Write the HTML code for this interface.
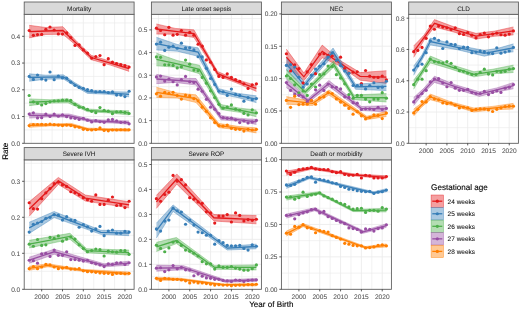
<!DOCTYPE html><html><head><meta charset="utf-8"><style>html,body{margin:0;padding:0;background:#fff;overflow:hidden}svg{display:block}</style></head><body><svg width="520" height="309" viewBox="0 0 520 309">
<style>text{font-family:"Liberation Sans",Arial,sans-serif;text-rendering:geometricPrecision}.ax{font-size:6.6px;fill:#4D4D4D;stroke:#4D4D4D;stroke-width:0.04px}.st{font-size:6.4px;fill:#1A1A1A;stroke:#1A1A1A;stroke-width:0.03px}.tt{font-size:8.1px;fill:#000;stroke:#000;stroke-width:0.12px}.lg{font-size:6.5px;fill:#000;stroke:#000;stroke-width:0.04px}</style>
<rect width="520" height="309" fill="#fff"/>
<clipPath id="clip0"><rect x="24.2" y="14.3" width="109.9" height="129"/></clipPath>
<line x1="31.28" y1="14.3" x2="31.28" y2="143.3" stroke="#EBEBEB" stroke-width="0.65"/><line x1="52.09" y1="14.3" x2="52.09" y2="143.3" stroke="#EBEBEB" stroke-width="0.65"/><line x1="72.91" y1="14.3" x2="72.91" y2="143.3" stroke="#EBEBEB" stroke-width="0.65"/><line x1="93.72" y1="14.3" x2="93.72" y2="143.3" stroke="#EBEBEB" stroke-width="0.65"/><line x1="114.53" y1="14.3" x2="114.53" y2="143.3" stroke="#EBEBEB" stroke-width="0.65"/><line x1="24.2" y1="129.93" x2="134.1" y2="129.93" stroke="#EBEBEB" stroke-width="0.65"/><line x1="24.2" y1="103.18" x2="134.1" y2="103.18" stroke="#EBEBEB" stroke-width="0.65"/><line x1="24.2" y1="76.43" x2="134.1" y2="76.43" stroke="#EBEBEB" stroke-width="0.65"/><line x1="24.2" y1="49.68" x2="134.1" y2="49.68" stroke="#EBEBEB" stroke-width="0.65"/><line x1="24.2" y1="22.93" x2="134.1" y2="22.93" stroke="#EBEBEB" stroke-width="0.65"/><line x1="41.68" y1="14.3" x2="41.68" y2="143.3" stroke="#EBEBEB" stroke-width="0.85"/><line x1="62.5" y1="14.3" x2="62.5" y2="143.3" stroke="#EBEBEB" stroke-width="0.85"/><line x1="83.31" y1="14.3" x2="83.31" y2="143.3" stroke="#EBEBEB" stroke-width="0.85"/><line x1="104.13" y1="14.3" x2="104.13" y2="143.3" stroke="#EBEBEB" stroke-width="0.85"/><line x1="124.94" y1="14.3" x2="124.94" y2="143.3" stroke="#EBEBEB" stroke-width="0.85"/><line x1="24.2" y1="143.3" x2="134.1" y2="143.3" stroke="#EBEBEB" stroke-width="0.85"/><line x1="24.2" y1="116.55" x2="134.1" y2="116.55" stroke="#EBEBEB" stroke-width="0.85"/><line x1="24.2" y1="89.8" x2="134.1" y2="89.8" stroke="#EBEBEB" stroke-width="0.85"/><line x1="24.2" y1="63.05" x2="134.1" y2="63.05" stroke="#EBEBEB" stroke-width="0.85"/><line x1="24.2" y1="36.3" x2="134.1" y2="36.3" stroke="#EBEBEB" stroke-width="0.85"/>
<g clip-path="url(#clip0)">
<polygon points="29.2,25.3 45.85,27.5 62.91,26.7 77.07,41.8 91.22,55.3 110.37,61.3 129.1,65.8 129.1,71.4 110.37,65.1 91.22,59.7 77.07,46.2 62.91,34.3 45.85,34.5 29.2,37.9" fill="#E41A1C" fill-opacity="0.42"/>
<path d="M29.2,25.3 L45.85,27.5 L62.91,26.7 L77.07,41.8 L91.22,55.3 L110.37,61.3 L129.1,65.8 M29.2,37.9 L45.85,34.5 L62.91,34.3 L77.07,46.2 L91.22,59.7 L110.37,65.1 L129.1,71.4" fill="none" stroke="#E41A1C" stroke-opacity="0.7" stroke-width="0.55"/>
<polygon points="29.2,73.8 45.85,75.17 63.33,74.85 74.99,82.81 87.48,90 108.29,91.61 129.1,92.07 129.1,96.81 108.29,94.32 87.48,93.39 74.99,86.19 63.33,78.92 45.85,79.23 29.2,81.24" fill="#377EB8" fill-opacity="0.42"/>
<path d="M29.2,73.8 L45.85,75.17 L63.33,74.85 L74.99,82.81 L87.48,90 L108.29,91.61 L129.1,92.07 M29.2,81.24 L45.85,79.23 L63.33,78.92 L74.99,86.19 L87.48,93.39 L108.29,94.32 L129.1,96.81" fill="none" stroke="#377EB8" stroke-opacity="0.7" stroke-width="0.55"/>
<polygon points="29.2,98.89 50.01,99.73 67.91,98.76 87.48,108.96 108.29,110.23 129.1,110.82 129.1,114.88 108.29,112.93 87.48,111.66 67.91,102.82 50.01,103.12 29.2,105.66" fill="#4DAF4A" fill-opacity="0.42"/>
<path d="M29.2,98.89 L50.01,99.73 L67.91,98.76 L87.48,108.96 L108.29,110.23 L129.1,110.82 M29.2,105.66 L50.01,103.12 L67.91,102.82 L87.48,111.66 L108.29,112.93 L129.1,114.88" fill="none" stroke="#4DAF4A" stroke-opacity="0.7" stroke-width="0.55"/>
<polygon points="29.2,112.68 50.01,114.14 68.74,113.91 91.64,119.53 112.45,120.38 129.1,120.89 129.1,124.27 112.45,123.09 91.64,122.24 68.74,117.29 50.01,116.85 29.2,118.1" fill="#984EA3" fill-opacity="0.42"/>
<path d="M29.2,112.68 L50.01,114.14 L68.74,113.91 L91.64,119.53 L112.45,120.38 L129.1,120.89 M29.2,118.1 L50.01,116.85 L68.74,117.29 L91.64,122.24 L112.45,123.09 L129.1,124.27" fill="none" stroke="#984EA3" stroke-opacity="0.7" stroke-width="0.55"/>
<polygon points="29.2,123.3 50.01,123.89 70.82,123.34 87.48,128.12 108.29,128.55 129.1,128.63 129.1,131.34 108.29,130.58 87.48,130.15 70.82,126.05 50.01,125.92 29.2,127.36" fill="#FF7F00" fill-opacity="0.42"/>
<path d="M29.2,123.3 L50.01,123.89 L70.82,123.34 L87.48,128.12 L108.29,128.55 L129.1,128.63 M29.2,127.36 L50.01,125.92 L70.82,126.05 L87.48,130.15 L108.29,130.58 L129.1,131.34" fill="none" stroke="#FF7F00" stroke-opacity="0.7" stroke-width="0.55"/>
<polyline points="29.2,31.6 45.85,31 62.91,30.5 77.07,44 91.22,57.5 110.37,63.2 129.1,68.6" fill="none" stroke="#E41A1C" stroke-width="1.3"/>
<polyline points="29.2,77.52 45.85,77.2 63.33,76.89 74.99,84.5 87.48,91.69 108.29,92.96 129.1,94.44" fill="none" stroke="#377EB8" stroke-width="1.3"/>
<polyline points="29.2,102.27 50.01,101.43 67.91,100.79 87.48,110.31 108.29,111.58 129.1,112.85" fill="none" stroke="#4DAF4A" stroke-width="1.3"/>
<polyline points="29.2,115.39 50.01,115.49 68.74,115.6 91.64,120.89 112.45,121.73 129.1,122.58" fill="none" stroke="#984EA3" stroke-width="1.3"/>
<polyline points="29.2,125.33 50.01,124.91 70.82,124.7 87.48,129.14 108.29,129.56 129.1,129.98" fill="none" stroke="#FF7F00" stroke-width="1.3"/>
<g fill="#E41A1C"><circle cx="29.2" cy="30.5" r="1.6"/><circle cx="33.36" cy="35.3" r="1.6"/><circle cx="37.52" cy="34.6" r="1.6"/><circle cx="41.68" cy="34.4" r="1.6"/><circle cx="45.85" cy="29.3" r="1.6"/><circle cx="50.01" cy="27" r="1.6"/><circle cx="54.17" cy="30" r="1.6"/><circle cx="58.34" cy="33.9" r="1.6"/><circle cx="62.5" cy="34.1" r="1.6"/><circle cx="66.66" cy="32.9" r="1.6"/><circle cx="70.82" cy="37.6" r="1.6"/><circle cx="74.99" cy="45.4" r="1.6"/><circle cx="79.15" cy="44.8" r="1.6"/><circle cx="83.31" cy="49.9" r="1.6"/><circle cx="87.48" cy="53.1" r="1.6"/><circle cx="91.64" cy="58.1" r="1.6"/><circle cx="95.8" cy="56.5" r="1.6"/><circle cx="99.96" cy="55.5" r="1.6"/><circle cx="104.13" cy="64.7" r="1.6"/><circle cx="108.29" cy="58.7" r="1.6"/><circle cx="112.45" cy="62.2" r="1.6"/><circle cx="116.62" cy="63.5" r="1.6"/><circle cx="120.78" cy="64.7" r="1.6"/><circle cx="124.94" cy="65.7" r="1.6"/><circle cx="129.1" cy="67" r="1.6"/></g>
<g fill="#377EB8"><circle cx="29.2" cy="76.46" r="1.6"/><circle cx="33.36" cy="79.42" r="1.6"/><circle cx="37.52" cy="74.98" r="1.6"/><circle cx="41.68" cy="79" r="1.6"/><circle cx="45.85" cy="80.06" r="1.6"/><circle cx="50.01" cy="72.02" r="1.6"/><circle cx="54.17" cy="79.64" r="1.6"/><circle cx="58.34" cy="76.04" r="1.6"/><circle cx="62.5" cy="77.94" r="1.6"/><circle cx="66.66" cy="78.15" r="1.6"/><circle cx="70.82" cy="82.17" r="1.6"/><circle cx="74.99" cy="85.35" r="1.6"/><circle cx="79.15" cy="87.46" r="1.6"/><circle cx="83.31" cy="88.31" r="1.6"/><circle cx="87.48" cy="89.58" r="1.6"/><circle cx="91.64" cy="90.64" r="1.6"/><circle cx="95.8" cy="91.91" r="1.6"/><circle cx="99.96" cy="91.48" r="1.6"/><circle cx="104.13" cy="91.48" r="1.6"/><circle cx="108.29" cy="92.54" r="1.6"/><circle cx="112.45" cy="91.91" r="1.6"/><circle cx="116.62" cy="95.08" r="1.6"/><circle cx="120.78" cy="95.08" r="1.6"/><circle cx="124.94" cy="96.56" r="1.6"/><circle cx="129.1" cy="91.27" r="1.6"/></g>
<g fill="#4DAF4A"><circle cx="29.2" cy="95.5" r="1.6"/><circle cx="33.36" cy="101.85" r="1.6"/><circle cx="37.52" cy="103.33" r="1.6"/><circle cx="41.68" cy="105.02" r="1.6"/><circle cx="45.85" cy="103.54" r="1.6"/><circle cx="50.01" cy="101.85" r="1.6"/><circle cx="54.17" cy="101" r="1.6"/><circle cx="58.34" cy="100.79" r="1.6"/><circle cx="62.5" cy="100.16" r="1.6"/><circle cx="66.66" cy="100.16" r="1.6"/><circle cx="70.82" cy="100.37" r="1.6"/><circle cx="74.99" cy="104.39" r="1.6"/><circle cx="79.15" cy="107.14" r="1.6"/><circle cx="83.31" cy="107.56" r="1.6"/><circle cx="87.48" cy="109.46" r="1.6"/><circle cx="91.64" cy="111.37" r="1.6"/><circle cx="95.8" cy="112.64" r="1.6"/><circle cx="99.96" cy="107.56" r="1.6"/><circle cx="104.13" cy="110.31" r="1.6"/><circle cx="108.29" cy="111.16" r="1.6"/><circle cx="112.45" cy="113.69" r="1.6"/><circle cx="116.62" cy="111.79" r="1.6"/><circle cx="120.78" cy="111.79" r="1.6"/><circle cx="124.94" cy="112.43" r="1.6"/><circle cx="129.1" cy="113.48" r="1.6"/></g>
<g fill="#984EA3"><circle cx="29.2" cy="114.12" r="1.6"/><circle cx="33.36" cy="112.85" r="1.6"/><circle cx="37.52" cy="117.93" r="1.6"/><circle cx="41.68" cy="117.71" r="1.6"/><circle cx="45.85" cy="114.12" r="1.6"/><circle cx="50.01" cy="116.45" r="1.6"/><circle cx="54.17" cy="114.12" r="1.6"/><circle cx="58.34" cy="116.23" r="1.6"/><circle cx="62.5" cy="114.96" r="1.6"/><circle cx="66.66" cy="116.66" r="1.6"/><circle cx="70.82" cy="117.93" r="1.6"/><circle cx="74.99" cy="118.35" r="1.6"/><circle cx="79.15" cy="119.41" r="1.6"/><circle cx="83.31" cy="118.35" r="1.6"/><circle cx="87.48" cy="120.25" r="1.6"/><circle cx="91.64" cy="121.95" r="1.6"/><circle cx="95.8" cy="120.68" r="1.6"/><circle cx="99.96" cy="121.73" r="1.6"/><circle cx="104.13" cy="122.37" r="1.6"/><circle cx="108.29" cy="119.83" r="1.6"/><circle cx="112.45" cy="119.41" r="1.6"/><circle cx="116.62" cy="120.89" r="1.6"/><circle cx="120.78" cy="122.37" r="1.6"/><circle cx="124.94" cy="122.37" r="1.6"/><circle cx="129.1" cy="123.85" r="1.6"/></g>
<g fill="#FF7F00"><circle cx="29.2" cy="125.54" r="1.6"/><circle cx="33.36" cy="124.7" r="1.6"/><circle cx="37.52" cy="124.48" r="1.6"/><circle cx="41.68" cy="124.27" r="1.6"/><circle cx="45.85" cy="124.7" r="1.6"/><circle cx="50.01" cy="124.06" r="1.6"/><circle cx="54.17" cy="124.7" r="1.6"/><circle cx="58.34" cy="125.12" r="1.6"/><circle cx="62.5" cy="125.54" r="1.6"/><circle cx="66.66" cy="125.12" r="1.6"/><circle cx="70.82" cy="125.54" r="1.6"/><circle cx="74.99" cy="126.81" r="1.6"/><circle cx="79.15" cy="127.23" r="1.6"/><circle cx="83.31" cy="129.35" r="1.6"/><circle cx="87.48" cy="129.77" r="1.6"/><circle cx="91.64" cy="129.98" r="1.6"/><circle cx="95.8" cy="129.56" r="1.6"/><circle cx="99.96" cy="127.87" r="1.6"/><circle cx="104.13" cy="130.41" r="1.6"/><circle cx="108.29" cy="130.83" r="1.6"/><circle cx="112.45" cy="129.98" r="1.6"/><circle cx="116.62" cy="129.98" r="1.6"/><circle cx="120.78" cy="129.77" r="1.6"/><circle cx="124.94" cy="129.77" r="1.6"/><circle cx="129.1" cy="129.77" r="1.6"/></g>
</g>
<rect x="24.2" y="14.3" width="109.9" height="129" fill="none" stroke="#5a5a5a" stroke-width="0.85"/>
<rect x="24.2" y="2" width="109.9" height="12.3" fill="#D9D9D9" stroke="#5a5a5a" stroke-width="0.85"/>
<text x="79.15" y="10.65" text-anchor="middle" class="st">Mortality</text>
<line x1="22.1" y1="143.3" x2="24.2" y2="143.3" stroke="#333" stroke-width="0.8"/>
<text x="20.3" y="145.65" text-anchor="end" class="ax">0.0</text>
<line x1="22.1" y1="116.55" x2="24.2" y2="116.55" stroke="#333" stroke-width="0.8"/>
<text x="20.3" y="118.9" text-anchor="end" class="ax">0.1</text>
<line x1="22.1" y1="89.8" x2="24.2" y2="89.8" stroke="#333" stroke-width="0.8"/>
<text x="20.3" y="92.15" text-anchor="end" class="ax">0.2</text>
<line x1="22.1" y1="63.05" x2="24.2" y2="63.05" stroke="#333" stroke-width="0.8"/>
<text x="20.3" y="65.4" text-anchor="end" class="ax">0.3</text>
<line x1="22.1" y1="36.3" x2="24.2" y2="36.3" stroke="#333" stroke-width="0.8"/>
<text x="20.3" y="38.65" text-anchor="end" class="ax">0.4</text>
<clipPath id="clip1"><rect x="151.4" y="14.3" width="110" height="129"/></clipPath>
<line x1="158.48" y1="14.3" x2="158.48" y2="143.3" stroke="#EBEBEB" stroke-width="0.65"/><line x1="179.32" y1="14.3" x2="179.32" y2="143.3" stroke="#EBEBEB" stroke-width="0.65"/><line x1="200.15" y1="14.3" x2="200.15" y2="143.3" stroke="#EBEBEB" stroke-width="0.65"/><line x1="220.98" y1="14.3" x2="220.98" y2="143.3" stroke="#EBEBEB" stroke-width="0.65"/><line x1="241.82" y1="14.3" x2="241.82" y2="143.3" stroke="#EBEBEB" stroke-width="0.65"/><line x1="151.4" y1="131.96" x2="261.4" y2="131.96" stroke="#EBEBEB" stroke-width="0.65"/><line x1="151.4" y1="109.28" x2="261.4" y2="109.28" stroke="#EBEBEB" stroke-width="0.65"/><line x1="151.4" y1="86.6" x2="261.4" y2="86.6" stroke="#EBEBEB" stroke-width="0.65"/><line x1="151.4" y1="63.92" x2="261.4" y2="63.92" stroke="#EBEBEB" stroke-width="0.65"/><line x1="151.4" y1="41.24" x2="261.4" y2="41.24" stroke="#EBEBEB" stroke-width="0.65"/><line x1="151.4" y1="18.56" x2="261.4" y2="18.56" stroke="#EBEBEB" stroke-width="0.65"/><line x1="168.9" y1="14.3" x2="168.9" y2="143.3" stroke="#EBEBEB" stroke-width="0.85"/><line x1="189.73" y1="14.3" x2="189.73" y2="143.3" stroke="#EBEBEB" stroke-width="0.85"/><line x1="210.57" y1="14.3" x2="210.57" y2="143.3" stroke="#EBEBEB" stroke-width="0.85"/><line x1="231.4" y1="14.3" x2="231.4" y2="143.3" stroke="#EBEBEB" stroke-width="0.85"/><line x1="252.23" y1="14.3" x2="252.23" y2="143.3" stroke="#EBEBEB" stroke-width="0.85"/><line x1="151.4" y1="143.3" x2="261.4" y2="143.3" stroke="#EBEBEB" stroke-width="0.85"/><line x1="151.4" y1="120.62" x2="261.4" y2="120.62" stroke="#EBEBEB" stroke-width="0.85"/><line x1="151.4" y1="97.94" x2="261.4" y2="97.94" stroke="#EBEBEB" stroke-width="0.85"/><line x1="151.4" y1="75.26" x2="261.4" y2="75.26" stroke="#EBEBEB" stroke-width="0.85"/><line x1="151.4" y1="52.58" x2="261.4" y2="52.58" stroke="#EBEBEB" stroke-width="0.85"/><line x1="151.4" y1="29.9" x2="261.4" y2="29.9" stroke="#EBEBEB" stroke-width="0.85"/>
<g clip-path="url(#clip1)">
<polygon points="156.4,23.94 175.15,28.39 193.9,29.87 206.4,51.66 217.65,71.54 235.57,79.16 256.4,85.5 256.4,91.43 235.57,82.54 217.65,75.77 206.4,56.73 193.9,37.48 175.15,34.31 156.4,34.1" fill="#E41A1C" fill-opacity="0.42"/>
<path d="M156.4,23.94 L175.15,28.39 L193.9,29.87 L206.4,51.66 L217.65,71.54 L235.57,79.16 L256.4,85.5 M156.4,34.1 L175.15,34.31 L193.9,37.48 L206.4,56.73 L217.65,75.77 L235.57,82.54 L256.4,91.43" fill="none" stroke="#E41A1C" stroke-opacity="0.7" stroke-width="0.55"/>
<polygon points="156.4,37.27 177.23,44.46 198.07,47.85 218.9,88.68 237.65,93.33 256.4,95.87 256.4,102.64 237.65,97.56 218.9,93.75 198.07,56.31 177.23,51.23 156.4,49.96" fill="#377EB8" fill-opacity="0.42"/>
<path d="M156.4,37.27 L177.23,44.46 L198.07,47.85 L218.9,88.68 L237.65,93.33 L256.4,95.87 M156.4,49.96 L177.23,51.23 L198.07,56.31 L218.9,93.75 L237.65,97.56 L256.4,102.64" fill="none" stroke="#377EB8" stroke-opacity="0.7" stroke-width="0.55"/>
<polygon points="156.4,53.14 177.23,60.54 199.32,65.2 220.98,104.54 239.73,108.14 256.4,110.04 256.4,116.81 239.73,112.37 220.98,109.62 199.32,73.66 177.23,67.31 156.4,65.83" fill="#4DAF4A" fill-opacity="0.42"/>
<path d="M156.4,53.14 L177.23,60.54 L199.32,65.2 L220.98,104.54 L239.73,108.14 L256.4,110.04 M156.4,65.83 L177.23,67.31 L199.32,73.66 L220.98,109.62 L239.73,112.37 L256.4,116.81" fill="none" stroke="#4DAF4A" stroke-opacity="0.7" stroke-width="0.55"/>
<polygon points="156.4,74.33 175.15,78.11 195.98,78.51 220.98,115.56 239.73,118.39 256.4,119.43 256.4,124.46 239.73,121.27 220.98,119.87 195.98,84.99 175.15,82.43 156.4,83.68" fill="#984EA3" fill-opacity="0.42"/>
<path d="M156.4,74.33 L175.15,78.11 L195.98,78.51 L220.98,115.56 L239.73,118.39 L256.4,119.43 M156.4,83.68 L175.15,82.43 L195.98,84.99 L220.98,119.87 L239.73,121.27 L256.4,124.46" fill="none" stroke="#984EA3" stroke-opacity="0.7" stroke-width="0.55"/>
<polygon points="156.4,87.25 177.23,92.96 195.98,94.87 218.9,123.43 239.73,126.6 256.4,127.87 256.4,132.95 239.73,129.98 218.9,127.66 195.98,102.48 177.23,98.04 156.4,97.41" fill="#FF7F00" fill-opacity="0.42"/>
<path d="M156.4,87.25 L177.23,92.96 L195.98,94.87 L218.9,123.43 L239.73,126.6 L256.4,127.87 M156.4,97.41 L177.23,98.04 L195.98,102.48 L218.9,127.66 L239.73,129.98 L256.4,132.95" fill="none" stroke="#FF7F00" stroke-opacity="0.7" stroke-width="0.55"/>
<polyline points="156.4,29.02 175.15,31.35 193.9,33.67 206.4,54.19 217.65,73.66 235.57,80.85 256.4,88.47" fill="none" stroke="#E41A1C" stroke-width="1.3"/>
<polyline points="156.4,43.62 177.23,47.85 198.07,52.08 218.9,91.22 237.65,95.45 256.4,99.25" fill="none" stroke="#377EB8" stroke-width="1.3"/>
<polyline points="156.4,59.48 177.23,63.93 199.32,69.43 220.98,107.08 239.73,110.26 256.4,113.43" fill="none" stroke="#4DAF4A" stroke-width="1.3"/>
<polyline points="156.4,79 175.15,80.27 195.98,81.75 220.98,117.71 239.73,119.83 256.4,121.95" fill="none" stroke="#984EA3" stroke-width="1.3"/>
<polyline points="156.4,92.33 177.23,95.5 195.98,98.67 218.9,125.54 239.73,128.29 256.4,130.41" fill="none" stroke="#FF7F00" stroke-width="1.3"/>
<g fill="#E41A1C"><circle cx="156.4" cy="28.17" r="1.6"/><circle cx="160.57" cy="30.5" r="1.6"/><circle cx="164.73" cy="34.73" r="1.6"/><circle cx="168.9" cy="27.33" r="1.6"/><circle cx="173.07" cy="35.16" r="1.6"/><circle cx="177.23" cy="34.31" r="1.6"/><circle cx="181.4" cy="30.5" r="1.6"/><circle cx="185.57" cy="35.16" r="1.6"/><circle cx="189.73" cy="32.4" r="1.6"/><circle cx="193.9" cy="35.16" r="1.6"/><circle cx="198.07" cy="44.25" r="1.6"/><circle cx="202.23" cy="46.16" r="1.6"/><circle cx="206.4" cy="59.91" r="1.6"/><circle cx="210.57" cy="62.23" r="1.6"/><circle cx="214.73" cy="69.43" r="1.6"/><circle cx="218.9" cy="76.41" r="1.6"/><circle cx="223.07" cy="77.47" r="1.6"/><circle cx="227.23" cy="73.87" r="1.6"/><circle cx="231.4" cy="77.47" r="1.6"/><circle cx="235.57" cy="79.58" r="1.6"/><circle cx="239.73" cy="81.27" r="1.6"/><circle cx="243.9" cy="83.81" r="1.6"/><circle cx="248.07" cy="88.47" r="1.6"/><circle cx="252.23" cy="84.87" r="1.6"/><circle cx="256.4" cy="83.81" r="1.6"/></g>
<g fill="#377EB8"><circle cx="156.4" cy="44.04" r="1.6"/><circle cx="160.57" cy="42.14" r="1.6"/><circle cx="164.73" cy="50.39" r="1.6"/><circle cx="168.9" cy="47.21" r="1.6"/><circle cx="173.07" cy="46.16" r="1.6"/><circle cx="177.23" cy="48.27" r="1.6"/><circle cx="181.4" cy="43.19" r="1.6"/><circle cx="185.57" cy="47.85" r="1.6"/><circle cx="189.73" cy="47.85" r="1.6"/><circle cx="193.9" cy="49.96" r="1.6"/><circle cx="198.07" cy="56.73" r="1.6"/><circle cx="202.23" cy="56.94" r="1.6"/><circle cx="206.4" cy="68.37" r="1.6"/><circle cx="210.57" cy="78.52" r="1.6"/><circle cx="214.73" cy="84.45" r="1.6"/><circle cx="218.9" cy="91.22" r="1.6"/><circle cx="223.07" cy="91.85" r="1.6"/><circle cx="227.23" cy="95.45" r="1.6"/><circle cx="231.4" cy="89.1" r="1.6"/><circle cx="235.57" cy="94.39" r="1.6"/><circle cx="239.73" cy="95.45" r="1.6"/><circle cx="243.9" cy="101.16" r="1.6"/><circle cx="248.07" cy="97.56" r="1.6"/><circle cx="252.23" cy="99.68" r="1.6"/><circle cx="256.4" cy="98.62" r="1.6"/></g>
<g fill="#4DAF4A"><circle cx="156.4" cy="56.94" r="1.6"/><circle cx="160.57" cy="57.37" r="1.6"/><circle cx="164.73" cy="64.77" r="1.6"/><circle cx="168.9" cy="64.77" r="1.6"/><circle cx="173.07" cy="65.41" r="1.6"/><circle cx="177.23" cy="67.95" r="1.6"/><circle cx="181.4" cy="66.89" r="1.6"/><circle cx="185.57" cy="60.12" r="1.6"/><circle cx="189.73" cy="64.14" r="1.6"/><circle cx="193.9" cy="70.06" r="1.6"/><circle cx="198.07" cy="70.7" r="1.6"/><circle cx="202.23" cy="77.47" r="1.6"/><circle cx="206.4" cy="83.18" r="1.6"/><circle cx="210.57" cy="90.79" r="1.6"/><circle cx="214.73" cy="97.56" r="1.6"/><circle cx="218.9" cy="104.33" r="1.6"/><circle cx="223.07" cy="108.14" r="1.6"/><circle cx="227.23" cy="107.08" r="1.6"/><circle cx="231.4" cy="104.97" r="1.6"/><circle cx="235.57" cy="109.2" r="1.6"/><circle cx="239.73" cy="110.26" r="1.6"/><circle cx="243.9" cy="113.43" r="1.6"/><circle cx="248.07" cy="114.91" r="1.6"/><circle cx="252.23" cy="109.83" r="1.6"/><circle cx="256.4" cy="112.79" r="1.6"/></g>
<g fill="#984EA3"><circle cx="156.4" cy="76.89" r="1.6"/><circle cx="160.57" cy="76.04" r="1.6"/><circle cx="164.73" cy="81.12" r="1.6"/><circle cx="168.9" cy="79" r="1.6"/><circle cx="173.07" cy="81.75" r="1.6"/><circle cx="177.23" cy="84.92" r="1.6"/><circle cx="181.4" cy="79.64" r="1.6"/><circle cx="185.57" cy="76.46" r="1.6"/><circle cx="189.73" cy="81.75" r="1.6"/><circle cx="193.9" cy="82.39" r="1.6"/><circle cx="198.07" cy="89.16" r="1.6"/><circle cx="202.23" cy="91.27" r="1.6"/><circle cx="206.4" cy="99.31" r="1.6"/><circle cx="210.57" cy="107.14" r="1.6"/><circle cx="214.73" cy="109.25" r="1.6"/><circle cx="218.9" cy="113.48" r="1.6"/><circle cx="223.07" cy="117.71" r="1.6"/><circle cx="227.23" cy="118.35" r="1.6"/><circle cx="231.4" cy="118.14" r="1.6"/><circle cx="235.57" cy="119.83" r="1.6"/><circle cx="239.73" cy="122.58" r="1.6"/><circle cx="243.9" cy="120.89" r="1.6"/><circle cx="248.07" cy="123" r="1.6"/><circle cx="252.23" cy="121.95" r="1.6"/><circle cx="256.4" cy="120.46" r="1.6"/></g>
<g fill="#FF7F00"><circle cx="156.4" cy="93.81" r="1.6"/><circle cx="160.57" cy="96.14" r="1.6"/><circle cx="164.73" cy="92.33" r="1.6"/><circle cx="168.9" cy="93.39" r="1.6"/><circle cx="173.07" cy="92.33" r="1.6"/><circle cx="177.23" cy="95.5" r="1.6"/><circle cx="181.4" cy="99.1" r="1.6"/><circle cx="185.57" cy="95.08" r="1.6"/><circle cx="189.73" cy="95.92" r="1.6"/><circle cx="193.9" cy="98.67" r="1.6"/><circle cx="198.07" cy="100.79" r="1.6"/><circle cx="202.23" cy="107.14" r="1.6"/><circle cx="206.4" cy="111.37" r="1.6"/><circle cx="210.57" cy="117.71" r="1.6"/><circle cx="214.73" cy="122.58" r="1.6"/><circle cx="218.9" cy="125.54" r="1.6"/><circle cx="223.07" cy="126.18" r="1.6"/><circle cx="227.23" cy="125.12" r="1.6"/><circle cx="231.4" cy="128.29" r="1.6"/><circle cx="235.57" cy="129.35" r="1.6"/><circle cx="239.73" cy="129.35" r="1.6"/><circle cx="243.9" cy="131.04" r="1.6"/><circle cx="248.07" cy="129.35" r="1.6"/><circle cx="252.23" cy="129.98" r="1.6"/><circle cx="256.4" cy="129.35" r="1.6"/></g>
</g>
<rect x="151.4" y="14.3" width="110" height="129" fill="none" stroke="#5a5a5a" stroke-width="0.85"/>
<rect x="151.4" y="2" width="110" height="12.3" fill="#D9D9D9" stroke="#5a5a5a" stroke-width="0.85"/>
<text x="206.4" y="10.65" text-anchor="middle" class="st">Late onset sepsis</text>
<line x1="149.3" y1="143.3" x2="151.4" y2="143.3" stroke="#333" stroke-width="0.8"/>
<text x="147.5" y="145.65" text-anchor="end" class="ax">0.0</text>
<line x1="149.3" y1="120.62" x2="151.4" y2="120.62" stroke="#333" stroke-width="0.8"/>
<text x="147.5" y="122.97" text-anchor="end" class="ax">0.1</text>
<line x1="149.3" y1="97.94" x2="151.4" y2="97.94" stroke="#333" stroke-width="0.8"/>
<text x="147.5" y="100.29" text-anchor="end" class="ax">0.2</text>
<line x1="149.3" y1="75.26" x2="151.4" y2="75.26" stroke="#333" stroke-width="0.8"/>
<text x="147.5" y="77.61" text-anchor="end" class="ax">0.3</text>
<line x1="149.3" y1="52.58" x2="151.4" y2="52.58" stroke="#333" stroke-width="0.8"/>
<text x="147.5" y="54.93" text-anchor="end" class="ax">0.4</text>
<line x1="149.3" y1="29.9" x2="151.4" y2="29.9" stroke="#333" stroke-width="0.8"/>
<text x="147.5" y="32.25" text-anchor="end" class="ax">0.5</text>
<clipPath id="clip2"><rect x="281.4" y="14.3" width="110" height="129"/></clipPath>
<line x1="288.48" y1="14.3" x2="288.48" y2="143.3" stroke="#EBEBEB" stroke-width="0.65"/><line x1="309.32" y1="14.3" x2="309.32" y2="143.3" stroke="#EBEBEB" stroke-width="0.65"/><line x1="330.15" y1="14.3" x2="330.15" y2="143.3" stroke="#EBEBEB" stroke-width="0.65"/><line x1="350.98" y1="14.3" x2="350.98" y2="143.3" stroke="#EBEBEB" stroke-width="0.65"/><line x1="371.82" y1="14.3" x2="371.82" y2="143.3" stroke="#EBEBEB" stroke-width="0.65"/><line x1="281.4" y1="127.13" x2="391.4" y2="127.13" stroke="#EBEBEB" stroke-width="0.65"/><line x1="281.4" y1="94.78" x2="391.4" y2="94.78" stroke="#EBEBEB" stroke-width="0.65"/><line x1="281.4" y1="62.43" x2="391.4" y2="62.43" stroke="#EBEBEB" stroke-width="0.65"/><line x1="281.4" y1="30.08" x2="391.4" y2="30.08" stroke="#EBEBEB" stroke-width="0.65"/><line x1="298.9" y1="14.3" x2="298.9" y2="143.3" stroke="#EBEBEB" stroke-width="0.85"/><line x1="319.73" y1="14.3" x2="319.73" y2="143.3" stroke="#EBEBEB" stroke-width="0.85"/><line x1="340.57" y1="14.3" x2="340.57" y2="143.3" stroke="#EBEBEB" stroke-width="0.85"/><line x1="361.4" y1="14.3" x2="361.4" y2="143.3" stroke="#EBEBEB" stroke-width="0.85"/><line x1="382.23" y1="14.3" x2="382.23" y2="143.3" stroke="#EBEBEB" stroke-width="0.85"/><line x1="281.4" y1="143.3" x2="391.4" y2="143.3" stroke="#EBEBEB" stroke-width="0.85"/><line x1="281.4" y1="110.95" x2="391.4" y2="110.95" stroke="#EBEBEB" stroke-width="0.85"/><line x1="281.4" y1="78.6" x2="391.4" y2="78.6" stroke="#EBEBEB" stroke-width="0.85"/><line x1="281.4" y1="46.25" x2="391.4" y2="46.25" stroke="#EBEBEB" stroke-width="0.85"/><line x1="281.4" y1="13.9" x2="391.4" y2="13.9" stroke="#EBEBEB" stroke-width="0.85"/>
<g clip-path="url(#clip2)">
<polygon points="286.4,49.12 303.9,73.02 322.23,45.1 340.57,60.75 360.15,72.6 386.4,70.69 386.4,83.39 360.15,80.21 340.57,66.25 322.23,57.79 303.9,80.64 286.4,65.19" fill="#E41A1C" fill-opacity="0.42"/>
<path d="M286.4,49.12 L303.9,73.02 L322.23,45.1 L340.57,60.75 L360.15,72.6 L386.4,70.69 M286.4,65.19 L303.9,80.64 L322.23,57.79 L340.57,66.25 L360.15,80.21 L386.4,83.39" fill="none" stroke="#E41A1C" stroke-opacity="0.7" stroke-width="0.55"/>
<polygon points="286.4,57.58 304.32,82.54 333.07,48.06 355.57,84.23 386.4,82.12 386.4,90.58 355.57,89.31 333.07,55.67 304.32,87.62 286.4,70.27" fill="#377EB8" fill-opacity="0.42"/>
<path d="M286.4,57.58 L304.32,82.54 L333.07,48.06 L355.57,84.23 L386.4,82.12 M286.4,70.27 L304.32,87.62 L333.07,55.67 L355.57,89.31 L386.4,90.58" fill="none" stroke="#377EB8" stroke-opacity="0.7" stroke-width="0.55"/>
<polygon points="286.4,69.21 305.15,89.52 333.48,60.96 353.9,95.02 386.4,93.54 386.4,102 353.9,99.68 333.48,67.31 305.15,94.6 286.4,78.52" fill="#4DAF4A" fill-opacity="0.42"/>
<path d="M286.4,69.21 L305.15,89.52 L333.48,60.96 L353.9,95.02 L386.4,93.54 M286.4,78.52 L305.15,94.6 L333.48,67.31 L353.9,99.68 L386.4,102" fill="none" stroke="#4DAF4A" stroke-opacity="0.7" stroke-width="0.55"/>
<polygon points="286.4,79.23 308.07,98.48 328.9,80.5 361.4,106.52 386.4,105.68 386.4,112.02 361.4,110.33 328.9,86.42 308.07,102.71 286.4,87.69" fill="#984EA3" fill-opacity="0.42"/>
<path d="M286.4,79.23 L308.07,98.48 L328.9,80.5 L361.4,106.52 L386.4,105.68 M286.4,87.69 L308.07,102.71 L328.9,86.42 L361.4,110.33 L386.4,112.02" fill="none" stroke="#984EA3" stroke-opacity="0.7" stroke-width="0.55"/>
<polygon points="286.4,96.58 312.65,101.23 328.9,90.02 366.82,116.25 386.4,111.39 386.4,116.46 366.82,119.64 328.9,95.1 312.65,105.46 286.4,104.19" fill="#FF7F00" fill-opacity="0.42"/>
<path d="M286.4,96.58 L312.65,101.23 L328.9,90.02 L366.82,116.25 L386.4,111.39 M286.4,104.19 L312.65,105.46 L328.9,95.1 L366.82,119.64 L386.4,116.46" fill="none" stroke="#FF7F00" stroke-opacity="0.7" stroke-width="0.55"/>
<polyline points="286.4,57.16 303.9,76.83 322.23,51.44 340.57,63.5 360.15,76.41 386.4,77.04" fill="none" stroke="#E41A1C" stroke-width="1.3"/>
<polyline points="286.4,63.92 304.32,85.08 333.07,51.87 355.57,86.77 386.4,86.35" fill="none" stroke="#377EB8" stroke-width="1.3"/>
<polyline points="286.4,73.87 305.15,92.06 333.48,64.14 353.9,97.35 386.4,97.77" fill="none" stroke="#4DAF4A" stroke-width="1.3"/>
<polyline points="286.4,83.46 308.07,100.6 328.9,83.46 361.4,108.43 386.4,108.85" fill="none" stroke="#984EA3" stroke-width="1.3"/>
<polyline points="286.4,100.39 312.65,103.35 328.9,92.56 366.82,117.95 386.4,113.93" fill="none" stroke="#FF7F00" stroke-width="1.3"/>
<g fill="#E41A1C"><circle cx="286.4" cy="53.77" r="1.6"/><circle cx="290.57" cy="70.91" r="1.6"/><circle cx="294.73" cy="64.77" r="1.6"/><circle cx="298.9" cy="68.58" r="1.6"/><circle cx="303.07" cy="82.96" r="1.6"/><circle cx="307.23" cy="71.96" r="1.6"/><circle cx="311.4" cy="64.56" r="1.6"/><circle cx="315.57" cy="73.66" r="1.6"/><circle cx="319.73" cy="54.19" r="1.6"/><circle cx="323.9" cy="53.77" r="1.6"/><circle cx="328.07" cy="55.46" r="1.6"/><circle cx="332.23" cy="56.1" r="1.6"/><circle cx="336.4" cy="60.75" r="1.6"/><circle cx="340.57" cy="57.16" r="1.6"/><circle cx="344.73" cy="68.58" r="1.6"/><circle cx="348.9" cy="73.02" r="1.6"/><circle cx="353.07" cy="72.18" r="1.6"/><circle cx="357.23" cy="71.75" r="1.6"/><circle cx="361.4" cy="83.6" r="1.6"/><circle cx="365.57" cy="70.48" r="1.6"/><circle cx="369.73" cy="76.19" r="1.6"/><circle cx="373.9" cy="77.25" r="1.6"/><circle cx="378.07" cy="77.46" r="1.6"/><circle cx="382.23" cy="75.98" r="1.6"/><circle cx="386.4" cy="79.79" r="1.6"/></g>
<g fill="#377EB8"><circle cx="286.4" cy="65.41" r="1.6"/><circle cx="290.57" cy="64.56" r="1.6"/><circle cx="294.73" cy="67.1" r="1.6"/><circle cx="298.9" cy="77.25" r="1.6"/><circle cx="303.07" cy="87.2" r="1.6"/><circle cx="307.23" cy="84.02" r="1.6"/><circle cx="311.4" cy="75.14" r="1.6"/><circle cx="315.57" cy="69" r="1.6"/><circle cx="319.73" cy="66.25" r="1.6"/><circle cx="323.9" cy="63.71" r="1.6"/><circle cx="328.07" cy="57.16" r="1.6"/><circle cx="332.23" cy="52.92" r="1.6"/><circle cx="336.4" cy="60.33" r="1.6"/><circle cx="340.57" cy="65.62" r="1.6"/><circle cx="344.73" cy="70.91" r="1.6"/><circle cx="348.9" cy="73.23" r="1.6"/><circle cx="353.07" cy="85.5" r="1.6"/><circle cx="357.23" cy="85.5" r="1.6"/><circle cx="361.4" cy="85.08" r="1.6"/><circle cx="365.57" cy="88.89" r="1.6"/><circle cx="369.73" cy="85.5" r="1.6"/><circle cx="373.9" cy="82.75" r="1.6"/><circle cx="378.07" cy="87.41" r="1.6"/><circle cx="382.23" cy="87.2" r="1.6"/><circle cx="386.4" cy="81.27" r="1.6"/></g>
<g fill="#4DAF4A"><circle cx="286.4" cy="75.98" r="1.6"/><circle cx="290.57" cy="78.52" r="1.6"/><circle cx="294.73" cy="84.87" r="1.6"/><circle cx="298.9" cy="92.91" r="1.6"/><circle cx="303.07" cy="91" r="1.6"/><circle cx="307.23" cy="95.45" r="1.6"/><circle cx="311.4" cy="84.02" r="1.6"/><circle cx="315.57" cy="86.98" r="1.6"/><circle cx="319.73" cy="74.71" r="1.6"/><circle cx="323.9" cy="73.87" r="1.6"/><circle cx="328.07" cy="66.04" r="1.6"/><circle cx="332.23" cy="66.46" r="1.6"/><circle cx="336.4" cy="74.71" r="1.6"/><circle cx="340.57" cy="78.1" r="1.6"/><circle cx="344.73" cy="83.81" r="1.6"/><circle cx="348.9" cy="94.6" r="1.6"/><circle cx="353.07" cy="98.2" r="1.6"/><circle cx="357.23" cy="95.45" r="1.6"/><circle cx="361.4" cy="95.45" r="1.6"/><circle cx="365.57" cy="99.04" r="1.6"/><circle cx="369.73" cy="101.79" r="1.6"/><circle cx="373.9" cy="99.04" r="1.6"/><circle cx="378.07" cy="99.04" r="1.6"/><circle cx="382.23" cy="92.7" r="1.6"/><circle cx="386.4" cy="98.2" r="1.6"/></g>
<g fill="#984EA3"><circle cx="286.4" cy="82.62" r="1.6"/><circle cx="290.57" cy="90.44" r="1.6"/><circle cx="294.73" cy="94.04" r="1.6"/><circle cx="298.9" cy="95.31" r="1.6"/><circle cx="303.07" cy="96.79" r="1.6"/><circle cx="307.23" cy="101.66" r="1.6"/><circle cx="311.4" cy="100.6" r="1.6"/><circle cx="315.57" cy="89.81" r="1.6"/><circle cx="319.73" cy="85.16" r="1.6"/><circle cx="323.9" cy="90.44" r="1.6"/><circle cx="328.07" cy="84.1" r="1.6"/><circle cx="332.23" cy="86.85" r="1.6"/><circle cx="336.4" cy="87.27" r="1.6"/><circle cx="340.57" cy="88.96" r="1.6"/><circle cx="344.73" cy="96.79" r="1.6"/><circle cx="348.9" cy="97.43" r="1.6"/><circle cx="353.07" cy="102.71" r="1.6"/><circle cx="357.23" cy="103.14" r="1.6"/><circle cx="361.4" cy="109.48" r="1.6"/><circle cx="365.57" cy="108.85" r="1.6"/><circle cx="369.73" cy="108.85" r="1.6"/><circle cx="373.9" cy="109.48" r="1.6"/><circle cx="378.07" cy="107.37" r="1.6"/><circle cx="382.23" cy="109.48" r="1.6"/><circle cx="386.4" cy="108.43" r="1.6"/></g>
<g fill="#FF7F00"><circle cx="286.4" cy="100.39" r="1.6"/><circle cx="290.57" cy="107.37" r="1.6"/><circle cx="294.73" cy="96.16" r="1.6"/><circle cx="298.9" cy="104.62" r="1.6"/><circle cx="303.07" cy="104.19" r="1.6"/><circle cx="307.23" cy="104.19" r="1.6"/><circle cx="311.4" cy="100.39" r="1.6"/><circle cx="315.57" cy="104.19" r="1.6"/><circle cx="319.73" cy="97.85" r="1.6"/><circle cx="323.9" cy="96.79" r="1.6"/><circle cx="328.07" cy="92.56" r="1.6"/><circle cx="332.23" cy="93.62" r="1.6"/><circle cx="336.4" cy="98.91" r="1.6"/><circle cx="340.57" cy="102.08" r="1.6"/><circle cx="344.73" cy="105.25" r="1.6"/><circle cx="348.9" cy="108.43" r="1.6"/><circle cx="353.07" cy="114.14" r="1.6"/><circle cx="357.23" cy="111.6" r="1.6"/><circle cx="361.4" cy="115.83" r="1.6"/><circle cx="365.57" cy="119" r="1.6"/><circle cx="369.73" cy="117.52" r="1.6"/><circle cx="373.9" cy="114.77" r="1.6"/><circle cx="378.07" cy="115.41" r="1.6"/><circle cx="382.23" cy="118.58" r="1.6"/><circle cx="386.4" cy="113.08" r="1.6"/></g>
</g>
<rect x="281.4" y="14.3" width="110" height="129" fill="none" stroke="#5a5a5a" stroke-width="0.85"/>
<rect x="281.4" y="2" width="110" height="12.3" fill="#D9D9D9" stroke="#5a5a5a" stroke-width="0.85"/>
<text x="336.4" y="10.65" text-anchor="middle" class="st">NEC</text>
<line x1="279.3" y1="143.3" x2="281.4" y2="143.3" stroke="#333" stroke-width="0.8"/>
<text x="277.5" y="145.65" text-anchor="end" class="ax">0.00</text>
<line x1="279.3" y1="110.95" x2="281.4" y2="110.95" stroke="#333" stroke-width="0.8"/>
<text x="277.5" y="113.3" text-anchor="end" class="ax">0.05</text>
<line x1="279.3" y1="78.6" x2="281.4" y2="78.6" stroke="#333" stroke-width="0.8"/>
<text x="277.5" y="80.95" text-anchor="end" class="ax">0.10</text>
<line x1="279.3" y1="46.25" x2="281.4" y2="46.25" stroke="#333" stroke-width="0.8"/>
<text x="277.5" y="48.6" text-anchor="end" class="ax">0.15</text>
<line x1="279.3" y1="13.9" x2="281.4" y2="13.9" stroke="#333" stroke-width="0.8"/>
<text x="277.5" y="16.25" text-anchor="end" class="ax">0.20</text>
<clipPath id="clip3"><rect x="408.7" y="14.3" width="109.7" height="129"/></clipPath>
<line x1="415.76" y1="14.3" x2="415.76" y2="143.3" stroke="#EBEBEB" stroke-width="0.65"/><line x1="436.54" y1="14.3" x2="436.54" y2="143.3" stroke="#EBEBEB" stroke-width="0.65"/><line x1="457.32" y1="14.3" x2="457.32" y2="143.3" stroke="#EBEBEB" stroke-width="0.65"/><line x1="478.09" y1="14.3" x2="478.09" y2="143.3" stroke="#EBEBEB" stroke-width="0.65"/><line x1="498.87" y1="14.3" x2="498.87" y2="143.3" stroke="#EBEBEB" stroke-width="0.65"/><line x1="408.7" y1="127.66" x2="518.4" y2="127.66" stroke="#EBEBEB" stroke-width="0.65"/><line x1="408.7" y1="96.38" x2="518.4" y2="96.38" stroke="#EBEBEB" stroke-width="0.65"/><line x1="408.7" y1="65.1" x2="518.4" y2="65.1" stroke="#EBEBEB" stroke-width="0.65"/><line x1="408.7" y1="33.82" x2="518.4" y2="33.82" stroke="#EBEBEB" stroke-width="0.65"/><line x1="426.15" y1="14.3" x2="426.15" y2="143.3" stroke="#EBEBEB" stroke-width="0.85"/><line x1="446.93" y1="14.3" x2="446.93" y2="143.3" stroke="#EBEBEB" stroke-width="0.85"/><line x1="467.71" y1="14.3" x2="467.71" y2="143.3" stroke="#EBEBEB" stroke-width="0.85"/><line x1="488.48" y1="14.3" x2="488.48" y2="143.3" stroke="#EBEBEB" stroke-width="0.85"/><line x1="509.26" y1="14.3" x2="509.26" y2="143.3" stroke="#EBEBEB" stroke-width="0.85"/><line x1="408.7" y1="143.3" x2="518.4" y2="143.3" stroke="#EBEBEB" stroke-width="0.85"/><line x1="408.7" y1="112.02" x2="518.4" y2="112.02" stroke="#EBEBEB" stroke-width="0.85"/><line x1="408.7" y1="80.74" x2="518.4" y2="80.74" stroke="#EBEBEB" stroke-width="0.85"/><line x1="408.7" y1="49.46" x2="518.4" y2="49.46" stroke="#EBEBEB" stroke-width="0.85"/><line x1="408.7" y1="18.18" x2="518.4" y2="18.18" stroke="#EBEBEB" stroke-width="0.85"/>
<g clip-path="url(#clip3)">
<polygon points="413.69,45.94 424.07,35.12 434.46,19.6 455.24,27.3 476.02,33.36 494.71,31.1 513.41,26.93 513.41,34.92 494.71,36.24 476.02,39.07 455.24,32.44 434.46,27.02 424.07,40.26 413.69,57.37" fill="#E41A1C" fill-opacity="0.42"/>
<path d="M413.69,45.94 L424.07,35.12 L434.46,19.6 L455.24,27.3 L476.02,33.36 L494.71,31.1 L513.41,26.93 M413.69,57.37 L424.07,40.26 L434.46,27.02 L455.24,32.44 L476.02,39.07 L494.71,36.24 L513.41,34.92" fill="none" stroke="#E41A1C" stroke-opacity="0.7" stroke-width="0.55"/>
<polygon points="413.69,66.13 422,54.8 430.31,38.07 457.32,45.14 484.33,50.49 498.87,48.03 513.41,43.85 513.41,51.85 498.87,53.17 484.33,56.2 457.32,49.71 430.31,44.93 422,59.94 413.69,75.27" fill="#377EB8" fill-opacity="0.42"/>
<path d="M413.69,66.13 L422,54.8 L430.31,38.07 L457.32,45.14 L484.33,50.49 L498.87,48.03 L513.41,43.85 M413.69,75.27 L422,59.94 L430.31,44.93 L457.32,49.71 L484.33,56.2 L498.87,53.17 L513.41,51.85" fill="none" stroke="#377EB8" stroke-opacity="0.7" stroke-width="0.55"/>
<polygon points="413.69,80.09 422,69.61 430.31,56.06 451.08,64.6 473.94,71.72 492.64,69.26 513.41,65.08 513.41,72.5 492.64,73.83 473.94,76.86 451.08,69.17 430.31,62.91 422,74.75 413.69,89.23" fill="#4DAF4A" fill-opacity="0.42"/>
<path d="M413.69,80.09 L422,69.61 L430.31,56.06 L451.08,64.6 L473.94,71.72 L492.64,69.26 L513.41,65.08 M413.69,89.23 L422,74.75 L430.31,62.91 L451.08,69.17 L473.94,76.86 L492.64,73.83 L513.41,72.5" fill="none" stroke="#4DAF4A" stroke-opacity="0.7" stroke-width="0.55"/>
<polygon points="413.69,97.54 424.07,88.04 434.46,76.19 455.24,84.73 479.34,91.85 496.79,87.91 513.41,82.53 513.41,88.82 496.79,91.9 479.34,96.42 455.24,88.73 434.46,82.47 424.07,92.61 413.69,105.54" fill="#984EA3" fill-opacity="0.42"/>
<path d="M413.69,97.54 L424.07,88.04 L434.46,76.19 L455.24,84.73 L479.34,91.85 L496.79,87.91 L513.41,82.53 M413.69,105.54 L424.07,92.61 L434.46,82.47 L455.24,88.73 L479.34,96.42 L496.79,91.9 L513.41,88.82" fill="none" stroke="#984EA3" stroke-opacity="0.7" stroke-width="0.55"/>
<polygon points="413.69,109.11 422,102.71 430.31,94.03 451.08,101.94 473.94,108 492.64,106.39 513.41,103.34 513.41,109.05 492.64,109.81 473.94,112 451.08,105.37 430.31,99.74 422,106.71 413.69,115.97" fill="#FF7F00" fill-opacity="0.42"/>
<path d="M413.69,109.11 L422,102.71 L430.31,94.03 L451.08,101.94 L473.94,108 L492.64,106.39 L513.41,103.34 M413.69,115.97 L422,106.71 L430.31,99.74 L451.08,105.37 L473.94,112 L492.64,109.81 L513.41,109.05" fill="none" stroke="#FF7F00" stroke-opacity="0.7" stroke-width="0.55"/>
<polyline points="413.69,51.66 424.07,37.69 434.46,23.31 455.24,29.87 476.02,36.21 494.71,33.67 513.41,30.92" fill="none" stroke="#E41A1C" stroke-width="1.3"/>
<polyline points="413.69,70.7 422,57.37 430.31,41.5 457.32,47.43 484.33,53.35 498.87,50.6 513.41,47.85" fill="none" stroke="#377EB8" stroke-width="1.3"/>
<polyline points="413.69,84.66 422,72.18 430.31,59.48 451.08,66.89 473.94,74.29 492.64,71.54 513.41,68.79" fill="none" stroke="#4DAF4A" stroke-width="1.3"/>
<polyline points="413.69,101.54 424.07,90.33 434.46,79.33 455.24,86.73 479.34,94.14 496.79,89.91 513.41,85.67" fill="none" stroke="#984EA3" stroke-width="1.3"/>
<polyline points="413.69,112.54 422,104.71 430.31,96.89 451.08,103.66 473.94,110 492.64,108.1 513.41,106.19" fill="none" stroke="#FF7F00" stroke-width="1.3"/>
<g fill="#E41A1C"><circle cx="413.69" cy="51.66" r="1.6"/><circle cx="417.84" cy="50.39" r="1.6"/><circle cx="422" cy="47.43" r="1.6"/><circle cx="426.15" cy="38.33" r="1.6"/><circle cx="430.31" cy="26.06" r="1.6"/><circle cx="434.46" cy="29.23" r="1.6"/><circle cx="438.62" cy="26.06" r="1.6"/><circle cx="442.77" cy="27.12" r="1.6"/><circle cx="446.93" cy="27.75" r="1.6"/><circle cx="451.08" cy="29.44" r="1.6"/><circle cx="455.24" cy="27.75" r="1.6"/><circle cx="459.39" cy="33.67" r="1.6"/><circle cx="463.55" cy="34.52" r="1.6"/><circle cx="467.71" cy="32.62" r="1.6"/><circle cx="471.86" cy="35.16" r="1.6"/><circle cx="476.02" cy="37.91" r="1.6"/><circle cx="480.17" cy="34.52" r="1.6"/><circle cx="484.33" cy="33.04" r="1.6"/><circle cx="488.48" cy="36.85" r="1.6"/><circle cx="492.64" cy="34.1" r="1.6"/><circle cx="496.79" cy="33.04" r="1.6"/><circle cx="500.95" cy="34.73" r="1.6"/><circle cx="505.1" cy="35.16" r="1.6"/><circle cx="509.26" cy="34.1" r="1.6"/><circle cx="513.41" cy="30.92" r="1.6"/></g>
<g fill="#377EB8"><circle cx="413.69" cy="70.06" r="1.6"/><circle cx="417.84" cy="65.83" r="1.6"/><circle cx="422" cy="64.14" r="1.6"/><circle cx="426.15" cy="52.71" r="1.6"/><circle cx="430.31" cy="40.87" r="1.6"/><circle cx="434.46" cy="38.33" r="1.6"/><circle cx="438.62" cy="40.44" r="1.6"/><circle cx="442.77" cy="48.48" r="1.6"/><circle cx="446.93" cy="41.92" r="1.6"/><circle cx="451.08" cy="44.25" r="1.6"/><circle cx="455.24" cy="44.67" r="1.6"/><circle cx="459.39" cy="48.48" r="1.6"/><circle cx="463.55" cy="47.21" r="1.6"/><circle cx="467.71" cy="47.43" r="1.6"/><circle cx="471.86" cy="52.71" r="1.6"/><circle cx="476.02" cy="52.08" r="1.6"/><circle cx="480.17" cy="51.02" r="1.6"/><circle cx="484.33" cy="51.66" r="1.6"/><circle cx="488.48" cy="53.14" r="1.6"/><circle cx="492.64" cy="53.56" r="1.6"/><circle cx="496.79" cy="47.85" r="1.6"/><circle cx="500.95" cy="53.14" r="1.6"/><circle cx="505.1" cy="52.08" r="1.6"/><circle cx="509.26" cy="51.02" r="1.6"/><circle cx="513.41" cy="47.43" r="1.6"/></g>
<g fill="#4DAF4A"><circle cx="413.69" cy="84.66" r="1.6"/><circle cx="417.84" cy="79.16" r="1.6"/><circle cx="422" cy="79.16" r="1.6"/><circle cx="426.15" cy="70.7" r="1.6"/><circle cx="430.31" cy="59.06" r="1.6"/><circle cx="434.46" cy="61.6" r="1.6"/><circle cx="438.62" cy="62.23" r="1.6"/><circle cx="442.77" cy="63.08" r="1.6"/><circle cx="446.93" cy="61.6" r="1.6"/><circle cx="451.08" cy="63.29" r="1.6"/><circle cx="455.24" cy="67.31" r="1.6"/><circle cx="459.39" cy="70.7" r="1.6"/><circle cx="463.55" cy="71.33" r="1.6"/><circle cx="467.71" cy="73.02" r="1.6"/><circle cx="471.86" cy="74.5" r="1.6"/><circle cx="476.02" cy="74.5" r="1.6"/><circle cx="480.17" cy="72.39" r="1.6"/><circle cx="484.33" cy="69.21" r="1.6"/><circle cx="488.48" cy="74.08" r="1.6"/><circle cx="492.64" cy="74.93" r="1.6"/><circle cx="496.79" cy="71.33" r="1.6"/><circle cx="500.95" cy="71.96" r="1.6"/><circle cx="505.1" cy="71.33" r="1.6"/><circle cx="509.26" cy="69.21" r="1.6"/><circle cx="513.41" cy="68.58" r="1.6"/></g>
<g fill="#984EA3"><circle cx="413.69" cy="101.96" r="1.6"/><circle cx="417.84" cy="96.67" r="1.6"/><circle cx="422" cy="93.5" r="1.6"/><circle cx="426.15" cy="90.33" r="1.6"/><circle cx="430.31" cy="81.87" r="1.6"/><circle cx="434.46" cy="79.12" r="1.6"/><circle cx="438.62" cy="78.69" r="1.6"/><circle cx="442.77" cy="82.92" r="1.6"/><circle cx="446.93" cy="86.73" r="1.6"/><circle cx="451.08" cy="82.5" r="1.6"/><circle cx="455.24" cy="88.21" r="1.6"/><circle cx="459.39" cy="90.33" r="1.6"/><circle cx="463.55" cy="90.33" r="1.6"/><circle cx="467.71" cy="89.27" r="1.6"/><circle cx="471.86" cy="92.44" r="1.6"/><circle cx="476.02" cy="93.5" r="1.6"/><circle cx="480.17" cy="93.5" r="1.6"/><circle cx="484.33" cy="91.39" r="1.6"/><circle cx="488.48" cy="94.56" r="1.6"/><circle cx="492.64" cy="92.44" r="1.6"/><circle cx="496.79" cy="90.96" r="1.6"/><circle cx="500.95" cy="92.44" r="1.6"/><circle cx="505.1" cy="88.21" r="1.6"/><circle cx="509.26" cy="87.16" r="1.6"/><circle cx="513.41" cy="84.62" r="1.6"/></g>
<g fill="#FF7F00"><circle cx="413.69" cy="112.96" r="1.6"/><circle cx="417.84" cy="109.37" r="1.6"/><circle cx="422" cy="101.54" r="1.6"/><circle cx="426.15" cy="101.96" r="1.6"/><circle cx="430.31" cy="96.67" r="1.6"/><circle cx="434.46" cy="98.79" r="1.6"/><circle cx="438.62" cy="99.85" r="1.6"/><circle cx="442.77" cy="103.02" r="1.6"/><circle cx="446.93" cy="103.66" r="1.6"/><circle cx="451.08" cy="103.02" r="1.6"/><circle cx="455.24" cy="105.14" r="1.6"/><circle cx="459.39" cy="107.89" r="1.6"/><circle cx="463.55" cy="107.25" r="1.6"/><circle cx="467.71" cy="107.89" r="1.6"/><circle cx="471.86" cy="110.43" r="1.6"/><circle cx="476.02" cy="109.37" r="1.6"/><circle cx="480.17" cy="108.94" r="1.6"/><circle cx="484.33" cy="108.94" r="1.6"/><circle cx="488.48" cy="110" r="1.6"/><circle cx="492.64" cy="111.48" r="1.6"/><circle cx="496.79" cy="109.37" r="1.6"/><circle cx="500.95" cy="107.89" r="1.6"/><circle cx="505.1" cy="106.62" r="1.6"/><circle cx="509.26" cy="106.19" r="1.6"/><circle cx="513.41" cy="106.19" r="1.6"/></g>
</g>
<rect x="408.7" y="14.3" width="109.7" height="129" fill="none" stroke="#5a5a5a" stroke-width="0.85"/>
<rect x="408.7" y="2" width="109.7" height="12.3" fill="#D9D9D9" stroke="#5a5a5a" stroke-width="0.85"/>
<text x="463.55" y="10.65" text-anchor="middle" class="st">CLD</text>
<line x1="406.6" y1="143.3" x2="408.7" y2="143.3" stroke="#333" stroke-width="0.8"/>
<text x="404.8" y="145.65" text-anchor="end" class="ax">0.0</text>
<line x1="406.6" y1="112.02" x2="408.7" y2="112.02" stroke="#333" stroke-width="0.8"/>
<text x="404.8" y="114.37" text-anchor="end" class="ax">0.2</text>
<line x1="406.6" y1="80.74" x2="408.7" y2="80.74" stroke="#333" stroke-width="0.8"/>
<text x="404.8" y="83.09" text-anchor="end" class="ax">0.4</text>
<line x1="406.6" y1="49.46" x2="408.7" y2="49.46" stroke="#333" stroke-width="0.8"/>
<text x="404.8" y="51.81" text-anchor="end" class="ax">0.6</text>
<line x1="406.6" y1="18.18" x2="408.7" y2="18.18" stroke="#333" stroke-width="0.8"/>
<text x="404.8" y="20.53" text-anchor="end" class="ax">0.8</text>
<line x1="426.15" y1="143.3" x2="426.15" y2="145.4" stroke="#333" stroke-width="0.8"/>
<text x="426.15" y="152.5" text-anchor="middle" class="ax">2000</text>
<line x1="446.93" y1="143.3" x2="446.93" y2="145.4" stroke="#333" stroke-width="0.8"/>
<text x="446.93" y="152.5" text-anchor="middle" class="ax">2005</text>
<line x1="467.71" y1="143.3" x2="467.71" y2="145.4" stroke="#333" stroke-width="0.8"/>
<text x="467.71" y="152.5" text-anchor="middle" class="ax">2010</text>
<line x1="488.48" y1="143.3" x2="488.48" y2="145.4" stroke="#333" stroke-width="0.8"/>
<text x="488.48" y="152.5" text-anchor="middle" class="ax">2015</text>
<line x1="509.26" y1="143.3" x2="509.26" y2="145.4" stroke="#333" stroke-width="0.8"/>
<text x="509.26" y="152.5" text-anchor="middle" class="ax">2020</text>
<clipPath id="clip4"><rect x="24.2" y="159.85" width="109.9" height="129.45"/></clipPath>
<line x1="31.28" y1="159.85" x2="31.28" y2="289.3" stroke="#EBEBEB" stroke-width="0.65"/><line x1="52.09" y1="159.85" x2="52.09" y2="289.3" stroke="#EBEBEB" stroke-width="0.65"/><line x1="72.91" y1="159.85" x2="72.91" y2="289.3" stroke="#EBEBEB" stroke-width="0.65"/><line x1="93.72" y1="159.85" x2="93.72" y2="289.3" stroke="#EBEBEB" stroke-width="0.65"/><line x1="114.53" y1="159.85" x2="114.53" y2="289.3" stroke="#EBEBEB" stroke-width="0.65"/><line x1="24.2" y1="271.3" x2="134.1" y2="271.3" stroke="#EBEBEB" stroke-width="0.65"/><line x1="24.2" y1="235.3" x2="134.1" y2="235.3" stroke="#EBEBEB" stroke-width="0.65"/><line x1="24.2" y1="199.3" x2="134.1" y2="199.3" stroke="#EBEBEB" stroke-width="0.65"/><line x1="24.2" y1="163.3" x2="134.1" y2="163.3" stroke="#EBEBEB" stroke-width="0.65"/><line x1="41.68" y1="159.85" x2="41.68" y2="289.3" stroke="#EBEBEB" stroke-width="0.85"/><line x1="62.5" y1="159.85" x2="62.5" y2="289.3" stroke="#EBEBEB" stroke-width="0.85"/><line x1="83.31" y1="159.85" x2="83.31" y2="289.3" stroke="#EBEBEB" stroke-width="0.85"/><line x1="104.13" y1="159.85" x2="104.13" y2="289.3" stroke="#EBEBEB" stroke-width="0.85"/><line x1="124.94" y1="159.85" x2="124.94" y2="289.3" stroke="#EBEBEB" stroke-width="0.85"/><line x1="24.2" y1="289.3" x2="134.1" y2="289.3" stroke="#EBEBEB" stroke-width="0.85"/><line x1="24.2" y1="253.3" x2="134.1" y2="253.3" stroke="#EBEBEB" stroke-width="0.85"/><line x1="24.2" y1="217.3" x2="134.1" y2="217.3" stroke="#EBEBEB" stroke-width="0.85"/><line x1="24.2" y1="181.3" x2="134.1" y2="181.3" stroke="#EBEBEB" stroke-width="0.85"/>
<g clip-path="url(#clip4)">
<polygon points="29.2,201.87 58.34,177.45 85.39,195.05 129.1,201.82 129.1,207.87 85.39,201.1 58.34,184.43 29.2,216.29" fill="#E41A1C" fill-opacity="0.42"/>
<path d="M29.2,201.87 L58.34,177.45 L85.39,195.05 L129.1,201.82 M29.2,216.29 L58.34,184.43 L85.39,201.1 L129.1,207.87" fill="none" stroke="#E41A1C" stroke-opacity="0.7" stroke-width="0.55"/>
<polygon points="29.2,222.28 54.17,211.49 100.8,230.28 129.1,230.62 129.1,235.69 100.8,234.34 54.17,217.58 29.2,233.45" fill="#377EB8" fill-opacity="0.42"/>
<path d="M29.2,222.28 L54.17,211.49 L100.8,230.28 L129.1,230.62 M29.2,233.45 L54.17,217.58 L100.8,234.34 L129.1,235.69" fill="none" stroke="#377EB8" stroke-opacity="0.7" stroke-width="0.55"/>
<polygon points="29.2,240.35 69.99,233.28 86.64,248.68 129.1,250.08 129.1,255.16 86.64,252.74 69.99,239.37 29.2,247.96" fill="#4DAF4A" fill-opacity="0.42"/>
<path d="M29.2,240.35 L69.99,233.28 L86.64,248.68 L129.1,250.08 M29.2,247.96 L69.99,239.37 L86.64,252.74 L129.1,255.16" fill="none" stroke="#4DAF4A" stroke-opacity="0.7" stroke-width="0.55"/>
<polygon points="29.2,257.19 54.17,249.23 104.13,263.79 129.1,261.16 129.1,265.23 104.13,266.83 54.17,254.31 29.2,263.28" fill="#984EA3" fill-opacity="0.42"/>
<path d="M29.2,257.19 L54.17,249.23 L104.13,263.79 L129.1,261.16 M29.2,263.28 L54.17,254.31 L104.13,266.83 L129.1,265.23" fill="none" stroke="#984EA3" stroke-opacity="0.7" stroke-width="0.55"/>
<polygon points="29.2,266.24 47.93,263.79 83.31,269.37 129.1,272.04 129.1,275.08 83.31,271.4 47.93,266.83 29.2,270.3" fill="#FF7F00" fill-opacity="0.42"/>
<path d="M29.2,266.24 L47.93,263.79 L83.31,269.37 L129.1,272.04 M29.2,270.3 L47.93,266.83 L83.31,271.4 L129.1,275.08" fill="none" stroke="#FF7F00" stroke-opacity="0.7" stroke-width="0.55"/>
<polyline points="29.2,209.08 58.34,180.94 85.39,198.08 129.1,204.85" fill="none" stroke="#E41A1C" stroke-width="1.3"/>
<polyline points="29.2,227.87 54.17,214.54 100.8,232.31 129.1,233.16" fill="none" stroke="#377EB8" stroke-width="1.3"/>
<polyline points="29.2,244.16 69.99,236.33 86.64,250.71 129.1,252.62" fill="none" stroke="#4DAF4A" stroke-width="1.3"/>
<polyline points="29.2,260.23 54.17,251.77 104.13,265.31 129.1,263.2" fill="none" stroke="#984EA3" stroke-width="1.3"/>
<polyline points="29.2,268.27 47.93,265.31 83.31,270.39 129.1,273.56" fill="none" stroke="#FF7F00" stroke-width="1.3"/>
<g fill="#E41A1C"><circle cx="29.2" cy="202.73" r="1.6"/><circle cx="33.36" cy="208.66" r="1.6"/><circle cx="37.52" cy="209.08" r="1.6"/><circle cx="41.68" cy="198.71" r="1.6"/><circle cx="45.85" cy="192.79" r="1.6"/><circle cx="50.01" cy="188.56" r="1.6"/><circle cx="54.17" cy="183.69" r="1.6"/><circle cx="58.34" cy="182.21" r="1.6"/><circle cx="62.5" cy="184.96" r="1.6"/><circle cx="66.66" cy="186.44" r="1.6"/><circle cx="70.82" cy="191.73" r="1.6"/><circle cx="74.99" cy="192.79" r="1.6"/><circle cx="79.15" cy="194.91" r="1.6"/><circle cx="83.31" cy="197.66" r="1.6"/><circle cx="87.48" cy="199.77" r="1.6"/><circle cx="91.64" cy="201.25" r="1.6"/><circle cx="95.8" cy="194.91" r="1.6"/><circle cx="99.96" cy="204.43" r="1.6"/><circle cx="104.13" cy="204.43" r="1.6"/><circle cx="108.29" cy="200.19" r="1.6"/><circle cx="112.45" cy="197.02" r="1.6"/><circle cx="116.62" cy="205.48" r="1.6"/><circle cx="120.78" cy="205.06" r="1.6"/><circle cx="124.94" cy="207.6" r="1.6"/><circle cx="129.1" cy="201.25" r="1.6"/></g>
<g fill="#377EB8"><circle cx="29.2" cy="232.1" r="1.6"/><circle cx="33.36" cy="224.27" r="1.6"/><circle cx="37.52" cy="223" r="1.6"/><circle cx="41.68" cy="221.52" r="1.6"/><circle cx="45.85" cy="218.35" r="1.6"/><circle cx="50.01" cy="217.29" r="1.6"/><circle cx="54.17" cy="214.54" r="1.6"/><circle cx="58.34" cy="215.17" r="1.6"/><circle cx="62.5" cy="220.04" r="1.6"/><circle cx="66.66" cy="216.65" r="1.6"/><circle cx="70.82" cy="220.04" r="1.6"/><circle cx="74.99" cy="220.46" r="1.6"/><circle cx="79.15" cy="227.23" r="1.6"/><circle cx="83.31" cy="224.69" r="1.6"/><circle cx="87.48" cy="226.81" r="1.6"/><circle cx="91.64" cy="231.04" r="1.6"/><circle cx="95.8" cy="228.92" r="1.6"/><circle cx="99.96" cy="226.39" r="1.6"/><circle cx="104.13" cy="235.69" r="1.6"/><circle cx="108.29" cy="231.04" r="1.6"/><circle cx="112.45" cy="229.98" r="1.6"/><circle cx="116.62" cy="233.16" r="1.6"/><circle cx="120.78" cy="233.16" r="1.6"/><circle cx="124.94" cy="231.46" r="1.6"/><circle cx="129.1" cy="232.1" r="1.6"/></g>
<g fill="#4DAF4A"><circle cx="29.2" cy="244.16" r="1.6"/><circle cx="33.36" cy="246.27" r="1.6"/><circle cx="37.52" cy="239.5" r="1.6"/><circle cx="41.68" cy="245.43" r="1.6"/><circle cx="45.85" cy="244.79" r="1.6"/><circle cx="50.01" cy="237.39" r="1.6"/><circle cx="54.17" cy="238.44" r="1.6"/><circle cx="58.34" cy="235.91" r="1.6"/><circle cx="62.5" cy="241.19" r="1.6"/><circle cx="66.66" cy="239.08" r="1.6"/><circle cx="70.82" cy="236.96" r="1.6"/><circle cx="74.99" cy="239.08" r="1.6"/><circle cx="79.15" cy="244.79" r="1.6"/><circle cx="83.31" cy="248.39" r="1.6"/><circle cx="87.48" cy="251.77" r="1.6"/><circle cx="91.64" cy="250.5" r="1.6"/><circle cx="95.8" cy="249.02" r="1.6"/><circle cx="99.96" cy="249.66" r="1.6"/><circle cx="104.13" cy="256" r="1.6"/><circle cx="108.29" cy="251.14" r="1.6"/><circle cx="112.45" cy="251.77" r="1.6"/><circle cx="116.62" cy="252.19" r="1.6"/><circle cx="120.78" cy="250.5" r="1.6"/><circle cx="124.94" cy="250.71" r="1.6"/><circle cx="129.1" cy="254.31" r="1.6"/></g>
<g fill="#984EA3"><circle cx="29.2" cy="260.23" r="1.6"/><circle cx="33.36" cy="260.66" r="1.6"/><circle cx="37.52" cy="263.2" r="1.6"/><circle cx="41.68" cy="253.89" r="1.6"/><circle cx="45.85" cy="253.25" r="1.6"/><circle cx="50.01" cy="256.43" r="1.6"/><circle cx="54.17" cy="250.08" r="1.6"/><circle cx="58.34" cy="255.37" r="1.6"/><circle cx="62.5" cy="255.37" r="1.6"/><circle cx="66.66" cy="251.77" r="1.6"/><circle cx="70.82" cy="259.6" r="1.6"/><circle cx="74.99" cy="259.6" r="1.6"/><circle cx="79.15" cy="260.23" r="1.6"/><circle cx="83.31" cy="261.08" r="1.6"/><circle cx="87.48" cy="260.23" r="1.6"/><circle cx="91.64" cy="262.77" r="1.6"/><circle cx="95.8" cy="263.83" r="1.6"/><circle cx="99.96" cy="264.89" r="1.6"/><circle cx="104.13" cy="266.58" r="1.6"/><circle cx="108.29" cy="263.83" r="1.6"/><circle cx="112.45" cy="264.46" r="1.6"/><circle cx="116.62" cy="262.77" r="1.6"/><circle cx="120.78" cy="262.77" r="1.6"/><circle cx="124.94" cy="264.46" r="1.6"/><circle cx="129.1" cy="262.77" r="1.6"/></g>
<g fill="#FF7F00"><circle cx="29.2" cy="268.7" r="1.6"/><circle cx="33.36" cy="266.58" r="1.6"/><circle cx="37.52" cy="268.7" r="1.6"/><circle cx="41.68" cy="267" r="1.6"/><circle cx="45.85" cy="264.46" r="1.6"/><circle cx="50.01" cy="264.89" r="1.6"/><circle cx="54.17" cy="267" r="1.6"/><circle cx="58.34" cy="268.7" r="1.6"/><circle cx="62.5" cy="268.06" r="1.6"/><circle cx="66.66" cy="267.43" r="1.6"/><circle cx="70.82" cy="269.12" r="1.6"/><circle cx="74.99" cy="269.12" r="1.6"/><circle cx="79.15" cy="268.7" r="1.6"/><circle cx="83.31" cy="270.81" r="1.6"/><circle cx="87.48" cy="271.66" r="1.6"/><circle cx="91.64" cy="271.87" r="1.6"/><circle cx="95.8" cy="272.29" r="1.6"/><circle cx="99.96" cy="272.93" r="1.6"/><circle cx="104.13" cy="273.35" r="1.6"/><circle cx="108.29" cy="273.35" r="1.6"/><circle cx="112.45" cy="274.41" r="1.6"/><circle cx="116.62" cy="273.35" r="1.6"/><circle cx="120.78" cy="273.35" r="1.6"/><circle cx="124.94" cy="273.77" r="1.6"/><circle cx="129.1" cy="273.35" r="1.6"/></g>
</g>
<rect x="24.2" y="159.85" width="109.9" height="129.45" fill="none" stroke="#5a5a5a" stroke-width="0.85"/>
<rect x="24.2" y="147.6" width="109.9" height="12.25" fill="#D9D9D9" stroke="#5a5a5a" stroke-width="0.85"/>
<text x="79.15" y="156.22" text-anchor="middle" class="st">Severe IVH</text>
<line x1="22.1" y1="289.3" x2="24.2" y2="289.3" stroke="#333" stroke-width="0.8"/>
<text x="20.3" y="291.65" text-anchor="end" class="ax">0.0</text>
<line x1="22.1" y1="253.3" x2="24.2" y2="253.3" stroke="#333" stroke-width="0.8"/>
<text x="20.3" y="255.65" text-anchor="end" class="ax">0.1</text>
<line x1="22.1" y1="217.3" x2="24.2" y2="217.3" stroke="#333" stroke-width="0.8"/>
<text x="20.3" y="219.65" text-anchor="end" class="ax">0.2</text>
<line x1="22.1" y1="181.3" x2="24.2" y2="181.3" stroke="#333" stroke-width="0.8"/>
<text x="20.3" y="183.65" text-anchor="end" class="ax">0.3</text>
<line x1="41.68" y1="289.3" x2="41.68" y2="291.4" stroke="#333" stroke-width="0.8"/>
<text x="41.68" y="298.5" text-anchor="middle" class="ax">2000</text>
<line x1="62.5" y1="289.3" x2="62.5" y2="291.4" stroke="#333" stroke-width="0.8"/>
<text x="62.5" y="298.5" text-anchor="middle" class="ax">2005</text>
<line x1="83.31" y1="289.3" x2="83.31" y2="291.4" stroke="#333" stroke-width="0.8"/>
<text x="83.31" y="298.5" text-anchor="middle" class="ax">2010</text>
<line x1="104.13" y1="289.3" x2="104.13" y2="291.4" stroke="#333" stroke-width="0.8"/>
<text x="104.13" y="298.5" text-anchor="middle" class="ax">2015</text>
<line x1="124.94" y1="289.3" x2="124.94" y2="291.4" stroke="#333" stroke-width="0.8"/>
<text x="124.94" y="298.5" text-anchor="middle" class="ax">2020</text>
<clipPath id="clip5"><rect x="151.4" y="159.85" width="110" height="129.45"/></clipPath>
<line x1="158.48" y1="159.85" x2="158.48" y2="289.3" stroke="#EBEBEB" stroke-width="0.65"/><line x1="179.32" y1="159.85" x2="179.32" y2="289.3" stroke="#EBEBEB" stroke-width="0.65"/><line x1="200.15" y1="159.85" x2="200.15" y2="289.3" stroke="#EBEBEB" stroke-width="0.65"/><line x1="220.98" y1="159.85" x2="220.98" y2="289.3" stroke="#EBEBEB" stroke-width="0.65"/><line x1="241.82" y1="159.85" x2="241.82" y2="289.3" stroke="#EBEBEB" stroke-width="0.65"/><line x1="151.4" y1="276.82" x2="261.4" y2="276.82" stroke="#EBEBEB" stroke-width="0.65"/><line x1="151.4" y1="251.86" x2="261.4" y2="251.86" stroke="#EBEBEB" stroke-width="0.65"/><line x1="151.4" y1="226.9" x2="261.4" y2="226.9" stroke="#EBEBEB" stroke-width="0.65"/><line x1="151.4" y1="201.94" x2="261.4" y2="201.94" stroke="#EBEBEB" stroke-width="0.65"/><line x1="151.4" y1="176.98" x2="261.4" y2="176.98" stroke="#EBEBEB" stroke-width="0.65"/><line x1="168.9" y1="159.85" x2="168.9" y2="289.3" stroke="#EBEBEB" stroke-width="0.85"/><line x1="189.73" y1="159.85" x2="189.73" y2="289.3" stroke="#EBEBEB" stroke-width="0.85"/><line x1="210.57" y1="159.85" x2="210.57" y2="289.3" stroke="#EBEBEB" stroke-width="0.85"/><line x1="231.4" y1="159.85" x2="231.4" y2="289.3" stroke="#EBEBEB" stroke-width="0.85"/><line x1="252.23" y1="159.85" x2="252.23" y2="289.3" stroke="#EBEBEB" stroke-width="0.85"/><line x1="151.4" y1="289.3" x2="261.4" y2="289.3" stroke="#EBEBEB" stroke-width="0.85"/><line x1="151.4" y1="264.34" x2="261.4" y2="264.34" stroke="#EBEBEB" stroke-width="0.85"/><line x1="151.4" y1="239.38" x2="261.4" y2="239.38" stroke="#EBEBEB" stroke-width="0.85"/><line x1="151.4" y1="214.42" x2="261.4" y2="214.42" stroke="#EBEBEB" stroke-width="0.85"/><line x1="151.4" y1="189.46" x2="261.4" y2="189.46" stroke="#EBEBEB" stroke-width="0.85"/><line x1="151.4" y1="164.5" x2="261.4" y2="164.5" stroke="#EBEBEB" stroke-width="0.85"/>
<g clip-path="url(#clip5)">
<polygon points="156.4,195.37 176.82,173.92 213.9,214.5 256.4,215.47 256.4,223.85 213.9,221.01 176.82,184.16 156.4,208.4" fill="#E41A1C" fill-opacity="0.42"/>
<path d="M156.4,195.37 L176.82,173.92 L213.9,214.5 L256.4,215.47 M156.4,208.4 L176.82,184.16 L213.9,221.01 L256.4,223.85" fill="none" stroke="#E41A1C" stroke-opacity="0.7" stroke-width="0.55"/>
<polygon points="156.4,223.17 173.07,204.93 227.23,246.31 256.4,244.16 256.4,248.81 227.23,250.04 173.07,211.45 156.4,238.06" fill="#377EB8" fill-opacity="0.42"/>
<path d="M156.4,223.17 L173.07,204.93 L227.23,246.31 L256.4,244.16 M156.4,238.06 L173.07,211.45 L227.23,250.04 L256.4,248.81" fill="none" stroke="#377EB8" stroke-opacity="0.7" stroke-width="0.55"/>
<polygon points="156.4,242.34 176.4,237.51 214.73,265.65 256.4,264.89 256.4,269.96 214.73,269.2 176.4,243.61 156.4,251.48" fill="#4DAF4A" fill-opacity="0.42"/>
<path d="M156.4,242.34 L176.4,237.51 L214.73,265.65 L256.4,264.89 M156.4,251.48 L176.4,243.61 L214.73,269.2 L256.4,269.96" fill="none" stroke="#4DAF4A" stroke-opacity="0.7" stroke-width="0.55"/>
<polygon points="156.4,265.11 183.48,265.7 225.15,279.79 256.4,278.48 256.4,281.53 225.15,282.33 183.48,269.76 156.4,271.2" fill="#984EA3" fill-opacity="0.42"/>
<path d="M156.4,265.11 L183.48,265.7 L225.15,279.79 L256.4,278.48 M156.4,271.2 L183.48,269.76 L225.15,282.33 L256.4,281.53" fill="none" stroke="#984EA3" stroke-opacity="0.7" stroke-width="0.55"/>
<polygon points="156.4,277.21 181.4,278.35 223.07,283.9 256.4,283.39 256.4,285.93 223.07,285.42 181.4,280.38 156.4,280.26" fill="#FF7F00" fill-opacity="0.42"/>
<path d="M156.4,277.21 L181.4,278.35 L223.07,283.9 L256.4,283.39 M156.4,280.26 L181.4,280.38 L223.07,285.42 L256.4,285.93" fill="none" stroke="#FF7F00" stroke-opacity="0.7" stroke-width="0.55"/>
<polyline points="156.4,201.89 176.82,179.04 213.9,217.75 256.4,219.66" fill="none" stroke="#E41A1C" stroke-width="1.3"/>
<polyline points="156.4,230.62 173.07,208.19 227.23,248.18 256.4,246.48" fill="none" stroke="#377EB8" stroke-width="1.3"/>
<polyline points="156.4,246.91 176.4,240.56 214.73,267.43 256.4,267.43" fill="none" stroke="#4DAF4A" stroke-width="1.3"/>
<polyline points="156.4,268.16 183.48,267.73 225.15,281.06 256.4,280" fill="none" stroke="#984EA3" stroke-width="1.3"/>
<polyline points="156.4,278.73 181.4,279.37 223.07,284.66 256.4,284.66" fill="none" stroke="#FF7F00" stroke-width="1.3"/>
<g fill="#E41A1C"><circle cx="156.4" cy="198.71" r="1.6"/><circle cx="160.57" cy="201.25" r="1.6"/><circle cx="164.73" cy="194.48" r="1.6"/><circle cx="168.9" cy="192.16" r="1.6"/><circle cx="173.07" cy="175.44" r="1.6"/><circle cx="177.23" cy="181.16" r="1.6"/><circle cx="181.4" cy="179.67" r="1.6"/><circle cx="185.57" cy="184.96" r="1.6"/><circle cx="189.73" cy="197.66" r="1.6"/><circle cx="193.9" cy="199.14" r="1.6"/><circle cx="198.07" cy="201.89" r="1.6"/><circle cx="202.23" cy="203.37" r="1.6"/><circle cx="206.4" cy="211.83" r="1.6"/><circle cx="210.57" cy="212.89" r="1.6"/><circle cx="214.73" cy="223.04" r="1.6"/><circle cx="218.9" cy="216.06" r="1.6"/><circle cx="223.07" cy="216.06" r="1.6"/><circle cx="227.23" cy="214.58" r="1.6"/><circle cx="231.4" cy="221.98" r="1.6"/><circle cx="235.57" cy="212.89" r="1.6"/><circle cx="239.73" cy="215.43" r="1.6"/><circle cx="243.9" cy="220.93" r="1.6"/><circle cx="248.07" cy="219.66" r="1.6"/><circle cx="252.23" cy="220.29" r="1.6"/><circle cx="256.4" cy="219.23" r="1.6"/></g>
<g fill="#377EB8"><circle cx="156.4" cy="228.92" r="1.6"/><circle cx="160.57" cy="231.04" r="1.6"/><circle cx="164.73" cy="221.1" r="1.6"/><circle cx="168.9" cy="220.04" r="1.6"/><circle cx="173.07" cy="208.19" r="1.6"/><circle cx="177.23" cy="210.73" r="1.6"/><circle cx="181.4" cy="212" r="1.6"/><circle cx="185.57" cy="224.27" r="1.6"/><circle cx="189.73" cy="220.04" r="1.6"/><circle cx="193.9" cy="225.12" r="1.6"/><circle cx="198.07" cy="232.1" r="1.6"/><circle cx="202.23" cy="232.73" r="1.6"/><circle cx="206.4" cy="235.27" r="1.6"/><circle cx="210.57" cy="235.27" r="1.6"/><circle cx="214.73" cy="244.16" r="1.6"/><circle cx="218.9" cy="240.56" r="1.6"/><circle cx="223.07" cy="242.67" r="1.6"/><circle cx="227.23" cy="245.43" r="1.6"/><circle cx="231.4" cy="245.85" r="1.6"/><circle cx="235.57" cy="245.85" r="1.6"/><circle cx="239.73" cy="245.43" r="1.6"/><circle cx="243.9" cy="248.39" r="1.6"/><circle cx="248.07" cy="250.08" r="1.6"/><circle cx="252.23" cy="244.79" r="1.6"/><circle cx="256.4" cy="246.27" r="1.6"/></g>
<g fill="#4DAF4A"><circle cx="156.4" cy="245.21" r="1.6"/><circle cx="160.57" cy="248.39" r="1.6"/><circle cx="164.73" cy="251.77" r="1.6"/><circle cx="168.9" cy="247.96" r="1.6"/><circle cx="173.07" cy="242.04" r="1.6"/><circle cx="177.23" cy="241.62" r="1.6"/><circle cx="181.4" cy="245.43" r="1.6"/><circle cx="185.57" cy="250.08" r="1.6"/><circle cx="189.73" cy="251.14" r="1.6"/><circle cx="193.9" cy="253.25" r="1.6"/><circle cx="198.07" cy="256" r="1.6"/><circle cx="202.23" cy="261.71" r="1.6"/><circle cx="206.4" cy="263.83" r="1.6"/><circle cx="210.57" cy="263.83" r="1.6"/><circle cx="214.73" cy="269.12" r="1.6"/><circle cx="218.9" cy="265.95" r="1.6"/><circle cx="223.07" cy="267.43" r="1.6"/><circle cx="227.23" cy="267.43" r="1.6"/><circle cx="231.4" cy="266.58" r="1.6"/><circle cx="235.57" cy="268.06" r="1.6"/><circle cx="239.73" cy="269.12" r="1.6"/><circle cx="243.9" cy="270.18" r="1.6"/><circle cx="248.07" cy="270.18" r="1.6"/><circle cx="252.23" cy="268.7" r="1.6"/><circle cx="256.4" cy="264.89" r="1.6"/></g>
<g fill="#984EA3"><circle cx="156.4" cy="268.16" r="1.6"/><circle cx="160.57" cy="267.73" r="1.6"/><circle cx="164.73" cy="271.54" r="1.6"/><circle cx="168.9" cy="269.85" r="1.6"/><circle cx="173.07" cy="265.62" r="1.6"/><circle cx="177.23" cy="268.79" r="1.6"/><circle cx="181.4" cy="267.31" r="1.6"/><circle cx="185.57" cy="269.85" r="1.6"/><circle cx="189.73" cy="269.85" r="1.6"/><circle cx="193.9" cy="275.77" r="1.6"/><circle cx="198.07" cy="274.08" r="1.6"/><circle cx="202.23" cy="276.19" r="1.6"/><circle cx="206.4" cy="277.89" r="1.6"/><circle cx="210.57" cy="278.31" r="1.6"/><circle cx="214.73" cy="279.37" r="1.6"/><circle cx="218.9" cy="279.37" r="1.6"/><circle cx="223.07" cy="280.43" r="1.6"/><circle cx="227.23" cy="280.85" r="1.6"/><circle cx="231.4" cy="281.48" r="1.6"/><circle cx="235.57" cy="280" r="1.6"/><circle cx="239.73" cy="280.43" r="1.6"/><circle cx="243.9" cy="281.48" r="1.6"/><circle cx="248.07" cy="280.43" r="1.6"/><circle cx="252.23" cy="280" r="1.6"/><circle cx="256.4" cy="279.79" r="1.6"/></g>
<g fill="#FF7F00"><circle cx="156.4" cy="278.31" r="1.6"/><circle cx="160.57" cy="280.43" r="1.6"/><circle cx="164.73" cy="278.31" r="1.6"/><circle cx="168.9" cy="278.73" r="1.6"/><circle cx="173.07" cy="279.37" r="1.6"/><circle cx="177.23" cy="279.37" r="1.6"/><circle cx="181.4" cy="280" r="1.6"/><circle cx="185.57" cy="280.85" r="1.6"/><circle cx="189.73" cy="282.96" r="1.6"/><circle cx="193.9" cy="282.12" r="1.6"/><circle cx="198.07" cy="282.96" r="1.6"/><circle cx="202.23" cy="282.96" r="1.6"/><circle cx="206.4" cy="283.6" r="1.6"/><circle cx="210.57" cy="284.23" r="1.6"/><circle cx="214.73" cy="285.08" r="1.6"/><circle cx="218.9" cy="284.66" r="1.6"/><circle cx="223.07" cy="285.08" r="1.6"/><circle cx="227.23" cy="285.08" r="1.6"/><circle cx="231.4" cy="285.71" r="1.6"/><circle cx="235.57" cy="285.29" r="1.6"/><circle cx="239.73" cy="285.08" r="1.6"/><circle cx="243.9" cy="285.08" r="1.6"/><circle cx="248.07" cy="284.66" r="1.6"/><circle cx="252.23" cy="284.66" r="1.6"/><circle cx="256.4" cy="284.23" r="1.6"/></g>
</g>
<rect x="151.4" y="159.85" width="110" height="129.45" fill="none" stroke="#5a5a5a" stroke-width="0.85"/>
<rect x="151.4" y="147.6" width="110" height="12.25" fill="#D9D9D9" stroke="#5a5a5a" stroke-width="0.85"/>
<text x="206.4" y="156.22" text-anchor="middle" class="st">Severe ROP</text>
<line x1="149.3" y1="289.3" x2="151.4" y2="289.3" stroke="#333" stroke-width="0.8"/>
<text x="147.5" y="291.65" text-anchor="end" class="ax">0.0</text>
<line x1="149.3" y1="264.34" x2="151.4" y2="264.34" stroke="#333" stroke-width="0.8"/>
<text x="147.5" y="266.69" text-anchor="end" class="ax">0.1</text>
<line x1="149.3" y1="239.38" x2="151.4" y2="239.38" stroke="#333" stroke-width="0.8"/>
<text x="147.5" y="241.73" text-anchor="end" class="ax">0.2</text>
<line x1="149.3" y1="214.42" x2="151.4" y2="214.42" stroke="#333" stroke-width="0.8"/>
<text x="147.5" y="216.77" text-anchor="end" class="ax">0.3</text>
<line x1="149.3" y1="189.46" x2="151.4" y2="189.46" stroke="#333" stroke-width="0.8"/>
<text x="147.5" y="191.81" text-anchor="end" class="ax">0.4</text>
<line x1="149.3" y1="164.5" x2="151.4" y2="164.5" stroke="#333" stroke-width="0.8"/>
<text x="147.5" y="166.85" text-anchor="end" class="ax">0.5</text>
<line x1="168.9" y1="289.3" x2="168.9" y2="291.4" stroke="#333" stroke-width="0.8"/>
<text x="168.9" y="298.5" text-anchor="middle" class="ax">2000</text>
<line x1="189.73" y1="289.3" x2="189.73" y2="291.4" stroke="#333" stroke-width="0.8"/>
<text x="189.73" y="298.5" text-anchor="middle" class="ax">2005</text>
<line x1="210.57" y1="289.3" x2="210.57" y2="291.4" stroke="#333" stroke-width="0.8"/>
<text x="210.57" y="298.5" text-anchor="middle" class="ax">2010</text>
<line x1="231.4" y1="289.3" x2="231.4" y2="291.4" stroke="#333" stroke-width="0.8"/>
<text x="231.4" y="298.5" text-anchor="middle" class="ax">2015</text>
<line x1="252.23" y1="289.3" x2="252.23" y2="291.4" stroke="#333" stroke-width="0.8"/>
<text x="252.23" y="298.5" text-anchor="middle" class="ax">2020</text>
<clipPath id="clip6"><rect x="281.4" y="159.85" width="110" height="129.45"/></clipPath>
<line x1="288.48" y1="159.85" x2="288.48" y2="289.3" stroke="#EBEBEB" stroke-width="0.65"/><line x1="309.32" y1="159.85" x2="309.32" y2="289.3" stroke="#EBEBEB" stroke-width="0.65"/><line x1="330.15" y1="159.85" x2="330.15" y2="289.3" stroke="#EBEBEB" stroke-width="0.65"/><line x1="350.98" y1="159.85" x2="350.98" y2="289.3" stroke="#EBEBEB" stroke-width="0.65"/><line x1="371.82" y1="159.85" x2="371.82" y2="289.3" stroke="#EBEBEB" stroke-width="0.65"/><line x1="281.4" y1="273.09" x2="391.4" y2="273.09" stroke="#EBEBEB" stroke-width="0.65"/><line x1="281.4" y1="240.66" x2="391.4" y2="240.66" stroke="#EBEBEB" stroke-width="0.65"/><line x1="281.4" y1="208.24" x2="391.4" y2="208.24" stroke="#EBEBEB" stroke-width="0.65"/><line x1="281.4" y1="175.81" x2="391.4" y2="175.81" stroke="#EBEBEB" stroke-width="0.65"/><line x1="298.9" y1="159.85" x2="298.9" y2="289.3" stroke="#EBEBEB" stroke-width="0.85"/><line x1="319.73" y1="159.85" x2="319.73" y2="289.3" stroke="#EBEBEB" stroke-width="0.85"/><line x1="340.57" y1="159.85" x2="340.57" y2="289.3" stroke="#EBEBEB" stroke-width="0.85"/><line x1="361.4" y1="159.85" x2="361.4" y2="289.3" stroke="#EBEBEB" stroke-width="0.85"/><line x1="382.23" y1="159.85" x2="382.23" y2="289.3" stroke="#EBEBEB" stroke-width="0.85"/><line x1="281.4" y1="289.3" x2="391.4" y2="289.3" stroke="#EBEBEB" stroke-width="0.85"/><line x1="281.4" y1="256.88" x2="391.4" y2="256.88" stroke="#EBEBEB" stroke-width="0.85"/><line x1="281.4" y1="224.45" x2="391.4" y2="224.45" stroke="#EBEBEB" stroke-width="0.85"/><line x1="281.4" y1="192.03" x2="391.4" y2="192.03" stroke="#EBEBEB" stroke-width="0.85"/><line x1="281.4" y1="159.6" x2="391.4" y2="159.6" stroke="#EBEBEB" stroke-width="0.85"/>
<g clip-path="url(#clip6)">
<polygon points="286.4,171.09 311.4,166.77 353.07,173.79 386.4,175.82 386.4,178.87 353.07,175.82 311.4,169.31 286.4,175.15" fill="#E41A1C" fill-opacity="0.42"/>
<path d="M286.4,171.09 L311.4,166.77 L353.07,173.79 L386.4,175.82 M286.4,175.15 L311.4,169.31 L353.07,175.82 L386.4,178.87" fill="none" stroke="#E41A1C" stroke-opacity="0.7" stroke-width="0.55"/>
<polygon points="286.4,184.41 309.32,176.29 373.9,191.77 386.4,188.73 386.4,191.77 373.9,193.81 309.32,178.83 286.4,188.47" fill="#377EB8" fill-opacity="0.42"/>
<path d="M286.4,184.41 L309.32,176.29 L373.9,191.77 L386.4,188.73 M286.4,188.47 L309.32,178.83 L373.9,193.81 L386.4,191.77" fill="none" stroke="#377EB8" stroke-opacity="0.7" stroke-width="0.55"/>
<polygon points="286.4,196.05 318.9,191.73 353.07,209.55 386.4,208.36 386.4,211.91 353.07,211.58 318.9,194.27 286.4,200.11" fill="#4DAF4A" fill-opacity="0.42"/>
<path d="M286.4,196.05 L318.9,191.73 L353.07,209.55 L386.4,208.36 M286.4,200.11 L318.9,194.27 L353.07,211.58 L386.4,211.91" fill="none" stroke="#4DAF4A" stroke-opacity="0.7" stroke-width="0.55"/>
<polygon points="286.4,214.03 314.73,207.77 363.48,230.66 386.4,223.8 386.4,227.36 363.48,233.2 314.73,210.81 286.4,218.09" fill="#984EA3" fill-opacity="0.42"/>
<path d="M286.4,214.03 L314.73,207.77 L363.48,230.66 L386.4,223.8 M286.4,218.09 L314.73,210.81 L363.48,233.2 L386.4,227.36" fill="none" stroke="#984EA3" stroke-opacity="0.7" stroke-width="0.55"/>
<polygon points="286.4,231.04 303.07,223.59 365.57,246.53 386.4,243.9 386.4,246.95 365.57,248.56 303.07,226.64 286.4,236.12" fill="#FF7F00" fill-opacity="0.42"/>
<path d="M286.4,231.04 L303.07,223.59 L365.57,246.53 L386.4,243.9 M286.4,236.12 L303.07,226.64 L365.57,248.56 L386.4,246.95" fill="none" stroke="#FF7F00" stroke-opacity="0.7" stroke-width="0.55"/>
<polyline points="286.4,173.12 311.4,168.04 353.07,174.81 386.4,177.35" fill="none" stroke="#E41A1C" stroke-width="1.3"/>
<polyline points="286.4,186.44 309.32,177.56 373.9,192.79 386.4,190.25" fill="none" stroke="#377EB8" stroke-width="1.3"/>
<polyline points="286.4,198.08 318.9,193 353.07,210.56 386.4,210.14" fill="none" stroke="#4DAF4A" stroke-width="1.3"/>
<polyline points="286.4,216.06 314.73,209.29 363.48,231.93 386.4,225.58" fill="none" stroke="#984EA3" stroke-width="1.3"/>
<polyline points="286.4,233.58 303.07,225.12 365.57,247.54 386.4,245.43" fill="none" stroke="#FF7F00" stroke-width="1.3"/>
<g fill="#E41A1C"><circle cx="286.4" cy="171" r="1.6"/><circle cx="290.57" cy="174.39" r="1.6"/><circle cx="294.73" cy="172.27" r="1.6"/><circle cx="298.9" cy="169.52" r="1.6"/><circle cx="303.07" cy="168.89" r="1.6"/><circle cx="307.23" cy="168.46" r="1.6"/><circle cx="311.4" cy="167.4" r="1.6"/><circle cx="315.57" cy="168.89" r="1.6"/><circle cx="319.73" cy="169.52" r="1.6"/><circle cx="323.9" cy="169.52" r="1.6"/><circle cx="328.07" cy="169.52" r="1.6"/><circle cx="332.23" cy="171.64" r="1.6"/><circle cx="336.4" cy="172.69" r="1.6"/><circle cx="340.57" cy="171.64" r="1.6"/><circle cx="344.73" cy="174.39" r="1.6"/><circle cx="348.9" cy="175.23" r="1.6"/><circle cx="353.07" cy="175.23" r="1.6"/><circle cx="357.23" cy="174.39" r="1.6"/><circle cx="361.4" cy="177.98" r="1.6"/><circle cx="365.57" cy="175.23" r="1.6"/><circle cx="369.73" cy="175.87" r="1.6"/><circle cx="373.9" cy="177.98" r="1.6"/><circle cx="378.07" cy="177.98" r="1.6"/><circle cx="382.23" cy="177.98" r="1.6"/><circle cx="386.4" cy="176.5" r="1.6"/></g>
<g fill="#377EB8"><circle cx="286.4" cy="184.96" r="1.6"/><circle cx="290.57" cy="185.39" r="1.6"/><circle cx="294.73" cy="184.33" r="1.6"/><circle cx="298.9" cy="181.16" r="1.6"/><circle cx="303.07" cy="179.46" r="1.6"/><circle cx="307.23" cy="177.35" r="1.6"/><circle cx="311.4" cy="176.92" r="1.6"/><circle cx="315.57" cy="182.21" r="1.6"/><circle cx="319.73" cy="179.46" r="1.6"/><circle cx="323.9" cy="180.1" r="1.6"/><circle cx="328.07" cy="181.16" r="1.6"/><circle cx="332.23" cy="182.85" r="1.6"/><circle cx="336.4" cy="183.69" r="1.6"/><circle cx="340.57" cy="186.44" r="1.6"/><circle cx="344.73" cy="187.5" r="1.6"/><circle cx="348.9" cy="189.19" r="1.6"/><circle cx="353.07" cy="189.62" r="1.6"/><circle cx="357.23" cy="190.67" r="1.6"/><circle cx="361.4" cy="191.31" r="1.6"/><circle cx="365.57" cy="191.73" r="1.6"/><circle cx="369.73" cy="191.31" r="1.6"/><circle cx="373.9" cy="193.43" r="1.6"/><circle cx="378.07" cy="192.16" r="1.6"/><circle cx="382.23" cy="191.73" r="1.6"/><circle cx="386.4" cy="190.04" r="1.6"/></g>
<g fill="#4DAF4A"><circle cx="286.4" cy="197.02" r="1.6"/><circle cx="290.57" cy="197.02" r="1.6"/><circle cx="294.73" cy="199.14" r="1.6"/><circle cx="298.9" cy="197.66" r="1.6"/><circle cx="303.07" cy="192.16" r="1.6"/><circle cx="307.23" cy="196.39" r="1.6"/><circle cx="311.4" cy="194.91" r="1.6"/><circle cx="315.57" cy="194.27" r="1.6"/><circle cx="319.73" cy="192.79" r="1.6"/><circle cx="323.9" cy="195.96" r="1.6"/><circle cx="328.07" cy="197.66" r="1.6"/><circle cx="332.23" cy="199.14" r="1.6"/><circle cx="336.4" cy="201.25" r="1.6"/><circle cx="340.57" cy="203.37" r="1.6"/><circle cx="344.73" cy="204.43" r="1.6"/><circle cx="348.9" cy="206.96" r="1.6"/><circle cx="353.07" cy="209.08" r="1.6"/><circle cx="357.23" cy="208.66" r="1.6"/><circle cx="361.4" cy="208.23" r="1.6"/><circle cx="365.57" cy="212.46" r="1.6"/><circle cx="369.73" cy="210.35" r="1.6"/><circle cx="373.9" cy="210.35" r="1.6"/><circle cx="378.07" cy="211.2" r="1.6"/><circle cx="382.23" cy="207.6" r="1.6"/><circle cx="386.4" cy="209.08" r="1.6"/></g>
<g fill="#984EA3"><circle cx="286.4" cy="215.43" r="1.6"/><circle cx="290.57" cy="215" r="1.6"/><circle cx="294.73" cy="218.81" r="1.6"/><circle cx="298.9" cy="214.58" r="1.6"/><circle cx="303.07" cy="212.89" r="1.6"/><circle cx="307.23" cy="211.83" r="1.6"/><circle cx="311.4" cy="209.71" r="1.6"/><circle cx="315.57" cy="209.08" r="1.6"/><circle cx="319.73" cy="212.89" r="1.6"/><circle cx="323.9" cy="211.41" r="1.6"/><circle cx="328.07" cy="216.7" r="1.6"/><circle cx="332.23" cy="218.39" r="1.6"/><circle cx="336.4" cy="220.5" r="1.6"/><circle cx="340.57" cy="222.2" r="1.6"/><circle cx="344.73" cy="223.68" r="1.6"/><circle cx="348.9" cy="227.91" r="1.6"/><circle cx="353.07" cy="228.54" r="1.6"/><circle cx="357.23" cy="229.39" r="1.6"/><circle cx="361.4" cy="232.14" r="1.6"/><circle cx="365.57" cy="228.97" r="1.6"/><circle cx="369.73" cy="229.39" r="1.6"/><circle cx="373.9" cy="231.08" r="1.6"/><circle cx="378.07" cy="228.54" r="1.6"/><circle cx="382.23" cy="227.91" r="1.6"/><circle cx="386.4" cy="224.73" r="1.6"/></g>
<g fill="#FF7F00"><circle cx="286.4" cy="233.16" r="1.6"/><circle cx="290.57" cy="234.21" r="1.6"/><circle cx="294.73" cy="226.39" r="1.6"/><circle cx="298.9" cy="227.23" r="1.6"/><circle cx="303.07" cy="224.69" r="1.6"/><circle cx="307.23" cy="227.87" r="1.6"/><circle cx="311.4" cy="228.5" r="1.6"/><circle cx="315.57" cy="232.73" r="1.6"/><circle cx="319.73" cy="230.62" r="1.6"/><circle cx="323.9" cy="231.46" r="1.6"/><circle cx="328.07" cy="232.1" r="1.6"/><circle cx="332.23" cy="235.69" r="1.6"/><circle cx="336.4" cy="237.39" r="1.6"/><circle cx="340.57" cy="239.08" r="1.6"/><circle cx="344.73" cy="243.31" r="1.6"/><circle cx="348.9" cy="244.16" r="1.6"/><circle cx="353.07" cy="245.43" r="1.6"/><circle cx="357.23" cy="245.85" r="1.6"/><circle cx="361.4" cy="245.85" r="1.6"/><circle cx="365.57" cy="247.96" r="1.6"/><circle cx="369.73" cy="247.54" r="1.6"/><circle cx="373.9" cy="246.91" r="1.6"/><circle cx="378.07" cy="245.43" r="1.6"/><circle cx="382.23" cy="244.79" r="1.6"/><circle cx="386.4" cy="245.85" r="1.6"/></g>
</g>
<rect x="281.4" y="159.85" width="110" height="129.45" fill="none" stroke="#5a5a5a" stroke-width="0.85"/>
<rect x="281.4" y="147.6" width="110" height="12.25" fill="#D9D9D9" stroke="#5a5a5a" stroke-width="0.85"/>
<text x="336.4" y="156.22" text-anchor="middle" class="st">Death or morbidity</text>
<line x1="279.3" y1="289.3" x2="281.4" y2="289.3" stroke="#333" stroke-width="0.8"/>
<text x="277.5" y="291.65" text-anchor="end" class="ax">0.00</text>
<line x1="279.3" y1="256.88" x2="281.4" y2="256.88" stroke="#333" stroke-width="0.8"/>
<text x="277.5" y="259.23" text-anchor="end" class="ax">0.25</text>
<line x1="279.3" y1="224.45" x2="281.4" y2="224.45" stroke="#333" stroke-width="0.8"/>
<text x="277.5" y="226.8" text-anchor="end" class="ax">0.50</text>
<line x1="279.3" y1="192.03" x2="281.4" y2="192.03" stroke="#333" stroke-width="0.8"/>
<text x="277.5" y="194.38" text-anchor="end" class="ax">0.75</text>
<line x1="279.3" y1="159.6" x2="281.4" y2="159.6" stroke="#333" stroke-width="0.8"/>
<text x="277.5" y="161.95" text-anchor="end" class="ax">1.00</text>
<line x1="298.9" y1="289.3" x2="298.9" y2="291.4" stroke="#333" stroke-width="0.8"/>
<text x="298.9" y="298.5" text-anchor="middle" class="ax">2000</text>
<line x1="319.73" y1="289.3" x2="319.73" y2="291.4" stroke="#333" stroke-width="0.8"/>
<text x="319.73" y="298.5" text-anchor="middle" class="ax">2005</text>
<line x1="340.57" y1="289.3" x2="340.57" y2="291.4" stroke="#333" stroke-width="0.8"/>
<text x="340.57" y="298.5" text-anchor="middle" class="ax">2010</text>
<line x1="361.4" y1="289.3" x2="361.4" y2="291.4" stroke="#333" stroke-width="0.8"/>
<text x="361.4" y="298.5" text-anchor="middle" class="ax">2015</text>
<line x1="382.23" y1="289.3" x2="382.23" y2="291.4" stroke="#333" stroke-width="0.8"/>
<text x="382.23" y="298.5" text-anchor="middle" class="ax">2020</text>
<text x="271.3" y="306.8" text-anchor="middle" class="tt">Year of Birth</text>
<text transform="translate(7.7,151.3) rotate(-90)" text-anchor="middle" class="tt">Rate</text>
<text x="431.1" y="190.0" class="tt">Gestational age</text>
<rect x="431.1" y="195" width="12.4" height="12.4" fill="#E41A1C" fill-opacity="0.42" stroke="#E41A1C" stroke-opacity="0.7" stroke-width="0.55"/>
<line x1="432.3" y1="201.2" x2="442.3" y2="201.2" stroke="#E41A1C" stroke-width="1.3"/>
<circle cx="437.3" cy="201.2" r="1.6" fill="#E41A1C"/>
<text x="447.6" y="203.5" class="lg">24 weeks</text>
<rect x="431.1" y="207.55" width="12.4" height="12.4" fill="#377EB8" fill-opacity="0.42" stroke="#377EB8" stroke-opacity="0.7" stroke-width="0.55"/>
<line x1="432.3" y1="213.75" x2="442.3" y2="213.75" stroke="#377EB8" stroke-width="1.3"/>
<circle cx="437.3" cy="213.75" r="1.6" fill="#377EB8"/>
<text x="447.6" y="216.05" class="lg">25 weeks</text>
<rect x="431.1" y="220.1" width="12.4" height="12.4" fill="#4DAF4A" fill-opacity="0.42" stroke="#4DAF4A" stroke-opacity="0.7" stroke-width="0.55"/>
<line x1="432.3" y1="226.3" x2="442.3" y2="226.3" stroke="#4DAF4A" stroke-width="1.3"/>
<circle cx="437.3" cy="226.3" r="1.6" fill="#4DAF4A"/>
<text x="447.6" y="228.6" class="lg">26 weeks</text>
<rect x="431.1" y="232.65" width="12.4" height="12.4" fill="#984EA3" fill-opacity="0.42" stroke="#984EA3" stroke-opacity="0.7" stroke-width="0.55"/>
<line x1="432.3" y1="238.85" x2="442.3" y2="238.85" stroke="#984EA3" stroke-width="1.3"/>
<circle cx="437.3" cy="238.85" r="1.6" fill="#984EA3"/>
<text x="447.6" y="241.15" class="lg">27 weeks</text>
<rect x="431.1" y="245.2" width="12.4" height="12.4" fill="#FF7F00" fill-opacity="0.42" stroke="#FF7F00" stroke-opacity="0.7" stroke-width="0.55"/>
<line x1="432.3" y1="251.4" x2="442.3" y2="251.4" stroke="#FF7F00" stroke-width="1.3"/>
<circle cx="437.3" cy="251.4" r="1.6" fill="#FF7F00"/>
<text x="447.6" y="253.7" class="lg">28 weeks</text>
</svg></body></html>
